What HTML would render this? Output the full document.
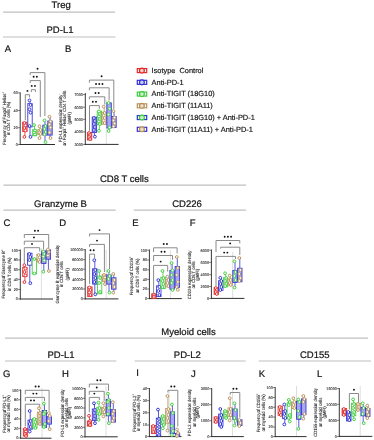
<!DOCTYPE html>
<html><head><meta charset="utf-8"><style>
html,body{margin:0;padding:0;background:#fff;}
svg{display:block;will-change:transform;font-family:"Liberation Sans",sans-serif;text-rendering:geometricPrecision;}
</style></head><body>
<svg width="374" height="440" viewBox="0 0 374 440">
<rect width="374" height="440" fill="#fff"/>
<text x="61.2" y="7.9" font-size="9.5" text-anchor="middle" fill="#161616" stroke="#161616" stroke-width="0.22" >Treg</text>
<line x1="3" y1="12.1" x2="115" y2="12.1" stroke="#bfbfbf" stroke-width="1.2"/>
<text x="60" y="32.6" font-size="9.5" text-anchor="middle" fill="#161616" stroke="#161616" stroke-width="0.22" >PD-L1</text>
<line x1="3" y1="37.0" x2="115.5" y2="37.0" stroke="#bfbfbf" stroke-width="1.2"/>
<text x="124.3" y="181.5" font-size="9.5" text-anchor="middle" fill="#161616" stroke="#161616" stroke-width="0.22" >CD8 T cells</text>
<line x1="3.5" y1="185.2" x2="246" y2="185.2" stroke="#bfbfbf" stroke-width="1.2"/>
<text x="60.5" y="207.0" font-size="9.5" text-anchor="middle" fill="#161616" stroke="#161616" stroke-width="0.22" >Granzyme B</text>
<line x1="3.5" y1="210.1" x2="115.7" y2="210.1" stroke="#bfbfbf" stroke-width="1.2"/>
<text x="187" y="206.79999999999998" font-size="9.5" text-anchor="middle" fill="#161616" stroke="#161616" stroke-width="0.22" >CD226</text>
<line x1="133.8" y1="210.1" x2="246" y2="210.1" stroke="#bfbfbf" stroke-width="1.2"/>
<text x="188.5" y="335.1" font-size="9.5" text-anchor="middle" fill="#161616" stroke="#161616" stroke-width="0.22" >Myeloid cells</text>
<line x1="5" y1="338.2" x2="368" y2="338.2" stroke="#bfbfbf" stroke-width="1.2"/>
<text x="61" y="357.8" font-size="9.5" text-anchor="middle" fill="#161616" stroke="#161616" stroke-width="0.22" >PD-L1</text>
<line x1="5" y1="361.0" x2="116.4" y2="361.0" stroke="#bfbfbf" stroke-width="1.2"/>
<text x="187.3" y="357.8" font-size="9.5" text-anchor="middle" fill="#161616" stroke="#161616" stroke-width="0.22" >PD-L2</text>
<line x1="134.6" y1="361.0" x2="245.7" y2="361.0" stroke="#bfbfbf" stroke-width="1.2"/>
<text x="314.7" y="357.6" font-size="9.5" text-anchor="middle" fill="#161616" stroke="#161616" stroke-width="0.22" >CD155</text>
<line x1="258.6" y1="361.0" x2="371" y2="361.0" stroke="#bfbfbf" stroke-width="1.2"/>
<text x="4.7" y="51.8" font-size="9.5" text-anchor="start" fill="#161616" stroke="#161616" stroke-width="0.22" >A</text>
<text x="65" y="52" font-size="9.5" text-anchor="start" fill="#161616" stroke="#161616" stroke-width="0.22" >B</text>
<text x="3.5" y="226.2" font-size="9.5" text-anchor="start" fill="#161616" stroke="#161616" stroke-width="0.22" >C</text>
<text x="59.2" y="226.3" font-size="9.5" text-anchor="start" fill="#161616" stroke="#161616" stroke-width="0.22" >D</text>
<text x="132.2" y="226.2" font-size="9.5" text-anchor="start" fill="#161616" stroke="#161616" stroke-width="0.22" >E</text>
<text x="189.8" y="225.6" font-size="9.5" text-anchor="start" fill="#161616" stroke="#161616" stroke-width="0.22" >F</text>
<text x="3.1" y="376.8" font-size="9.5" text-anchor="start" fill="#161616" stroke="#161616" stroke-width="0.22" >G</text>
<text x="62.0" y="376.6" font-size="9.5" text-anchor="start" fill="#161616" stroke="#161616" stroke-width="0.22" >H</text>
<text x="136.3" y="376.3" font-size="9.5" text-anchor="start" fill="#161616" stroke="#161616" stroke-width="0.22" >I</text>
<text x="191" y="376.6" font-size="9.5" text-anchor="start" fill="#161616" stroke="#161616" stroke-width="0.22" >J</text>
<text x="258.7" y="376.8" font-size="9.5" text-anchor="start" fill="#161616" stroke="#161616" stroke-width="0.22" >K</text>
<text x="317" y="377" font-size="9.5" text-anchor="start" fill="#161616" stroke="#161616" stroke-width="0.22" >L</text>
<rect x="137.3" y="68.60" width="9.4" height="4.0" fill="#fff" stroke="#e32a2a" stroke-width="1.2"/>
<circle cx="141.9" cy="70.60" r="2.45" fill="#f7c9c9" stroke="#e32a2a" stroke-width="1.2"/>
<text x="151.6" y="72.8" font-size="7.4" text-anchor="start" fill="#161616" stroke="#161616" stroke-width="0.18" xml:space="preserve">Isotype  Control</text>
<rect x="137.3" y="80.34" width="9.4" height="4.0" fill="#fff" stroke="#3030d8" stroke-width="1.2"/>
<circle cx="141.9" cy="82.34" r="2.45" fill="#c6c6f5" stroke="#3030d8" stroke-width="1.2"/>
<text x="151.6" y="84.53999999999999" font-size="7.4" text-anchor="start" fill="#161616" stroke="#161616" stroke-width="0.18" xml:space="preserve">Anti-PD-1</text>
<rect x="137.3" y="92.08" width="9.4" height="4.0" fill="#fff" stroke="#3ccc3c" stroke-width="1.2"/>
<circle cx="141.9" cy="94.08" r="2.45" fill="#c8f0c8" stroke="#3ccc3c" stroke-width="1.2"/>
<text x="151.6" y="96.28" font-size="7.4" text-anchor="start" fill="#161616" stroke="#161616" stroke-width="0.18" xml:space="preserve">Anti-TIGIT (18G10)</text>
<rect x="137.3" y="103.82" width="9.4" height="4.0" fill="#fff" stroke="#b8915a" stroke-width="1.2"/>
<circle cx="141.9" cy="105.82" r="2.45" fill="#eadbc4" stroke="#b8915a" stroke-width="1.2"/>
<text x="151.6" y="108.02" font-size="7.4" text-anchor="start" fill="#161616" stroke="#161616" stroke-width="0.18" xml:space="preserve">Anti-TIGIT (11A11)</text>
<rect x="137.3" y="115.56" width="9.4" height="4.0" fill="#fff" stroke="#3030d8" stroke-width="1.2"/>
<circle cx="141.9" cy="117.56" r="2.45" fill="#c8f0c8" stroke="#3ccc3c" stroke-width="1.2"/>
<text x="151.6" y="119.75999999999999" font-size="7.4" text-anchor="start" fill="#161616" stroke="#161616" stroke-width="0.18" xml:space="preserve">Anti-TIGIT (18G10) + Anti-PD-1</text>
<rect x="137.3" y="127.30" width="9.4" height="4.0" fill="#fff" stroke="#3030d8" stroke-width="1.2"/>
<circle cx="141.9" cy="129.30" r="2.45" fill="#eadbc4" stroke="#b8915a" stroke-width="1.2"/>
<text x="151.6" y="131.5" font-size="7.4" text-anchor="start" fill="#161616" stroke="#161616" stroke-width="0.18" xml:space="preserve">Anti-TIGIT (11A11) + Anti-PD-1</text>
<line x1="20.2" y1="92.4" x2="20.2" y2="144.95" stroke="#222" stroke-width="0.9"/>
<line x1="19.75" y1="144.5" x2="55.0" y2="144.5" stroke="#222" stroke-width="0.95"/>
<line x1="17.9" y1="92.9" x2="20.2" y2="92.9" stroke="#2a2a2a" stroke-width="0.6"/>
<text x="17.8" y="94.25" font-size="3.8" text-anchor="end" fill="#333" stroke="#333" stroke-width="0.1" >60</text>
<line x1="17.9" y1="110.5" x2="20.2" y2="110.5" stroke="#2a2a2a" stroke-width="0.6"/>
<text x="17.8" y="111.85" font-size="3.8" text-anchor="end" fill="#333" stroke="#333" stroke-width="0.1" >40</text>
<line x1="17.9" y1="127.7" x2="20.2" y2="127.7" stroke="#2a2a2a" stroke-width="0.6"/>
<text x="17.8" y="129.05" font-size="3.8" text-anchor="end" fill="#333" stroke="#333" stroke-width="0.1" >20</text>
<line x1="17.9" y1="144.5" x2="20.2" y2="144.5" stroke="#2a2a2a" stroke-width="0.6"/>
<text x="17.8" y="145.85" font-size="3.8" text-anchor="end" fill="#333" stroke="#333" stroke-width="0.1" >0</text>
<text transform="translate(5.85,118.5) rotate(-90) scale(0.9,1)" font-size="4.611" text-anchor="middle" fill="#222" stroke="#222" stroke-width="0.08">Frequency of Foxp3<tspan baseline-shift="super" font-size="2.9">+</tspan> Helios<tspan baseline-shift="super" font-size="2.9">+</tspan></text>
<text transform="translate(10.45,118.5) rotate(-90) scale(0.9,1)" font-size="4.611" text-anchor="middle" fill="#222" stroke="#222" stroke-width="0.08">in CD4 T cells (%)</text>
<polyline points="30.2,75 30.2,72.6 44.9,72.6 44.9,116" fill="none" stroke="#8a8a8a" stroke-width="1.0"/>
<circle cx="37.55" cy="68.80" r="0.95" fill="#111"/>
<polyline points="30.2,83 30.2,80.6 40.3,80.6 40.3,117" fill="none" stroke="#8a8a8a" stroke-width="1.0"/>
<circle cx="33.65" cy="76.80" r="0.95" fill="#111"/>
<circle cx="36.85" cy="76.80" r="0.95" fill="#111"/>
<polyline points="31.3,92.1 31.3,89.7 35.4,89.7 35.4,92.1" fill="none" stroke="#8a8a8a" stroke-width="1.0"/>
<circle cx="31.75" cy="85.90" r="0.95" fill="#111"/>
<circle cx="34.95" cy="85.90" r="0.95" fill="#111"/>
<polyline points="25.3,120.3 25.3,94.7 29.6,94.7 29.6,97.4" fill="none" stroke="#8a8a8a" stroke-width="1.0"/>
<circle cx="27.45" cy="90.90" r="0.95" fill="#111"/>
<line x1="24.9" y1="131.6" x2="24.9" y2="136.9" stroke="#e32a2a" stroke-width="0.8"/>
<rect x="22.70" y="122.20" width="4.40" height="9.40" fill="#f2a6a6" stroke="#e32a2a" stroke-width="0.85"/>
<circle cx="24.40" cy="123.00" r="1.4" fill="#fff" stroke="#e32a2a" stroke-width="0.95"/>
<circle cx="25.40" cy="125.50" r="1.4" fill="#fff" stroke="#e32a2a" stroke-width="0.95"/>
<circle cx="24.40" cy="128.00" r="1.4" fill="#fff" stroke="#e32a2a" stroke-width="0.95"/>
<circle cx="25.40" cy="130.50" r="1.4" fill="#fff" stroke="#e32a2a" stroke-width="0.95"/>
<circle cx="24.40" cy="136.90" r="1.4" fill="#fff" stroke="#e32a2a" stroke-width="0.95"/>
<line x1="30.0" y1="100.4" x2="30.0" y2="103.6" stroke="#3030d8" stroke-width="0.8"/>
<line x1="30.0" y1="126.9" x2="30.0" y2="136.9" stroke="#3030d8" stroke-width="0.8"/>
<rect x="27.80" y="103.60" width="4.40" height="23.30" fill="#fff" stroke="#3030d8" stroke-width="0.85"/>
<circle cx="29.50" cy="100.40" r="1.4" fill="#fff" stroke="#3030d8" stroke-width="0.95"/>
<circle cx="30.50" cy="105.00" r="1.4" fill="#fff" stroke="#3030d8" stroke-width="0.95"/>
<circle cx="29.50" cy="109.30" r="1.4" fill="#fff" stroke="#3030d8" stroke-width="0.95"/>
<circle cx="30.50" cy="112.70" r="1.4" fill="#fff" stroke="#3030d8" stroke-width="0.95"/>
<circle cx="29.50" cy="126.00" r="1.4" fill="#fff" stroke="#3030d8" stroke-width="0.95"/>
<circle cx="30.50" cy="136.90" r="1.4" fill="#fff" stroke="#3030d8" stroke-width="0.95"/>
<line x1="34.5" y1="125.1" x2="34.5" y2="129.8" stroke="#3ccc3c" stroke-width="0.8"/>
<rect x="32.30" y="129.80" width="4.40" height="5.90" fill="#fff" stroke="#3ccc3c" stroke-width="0.85"/>
<circle cx="34.00" cy="125.10" r="1.4" fill="#fff" stroke="#3ccc3c" stroke-width="0.95"/>
<circle cx="35.00" cy="130.50" r="1.4" fill="#fff" stroke="#3ccc3c" stroke-width="0.95"/>
<circle cx="34.00" cy="132.50" r="1.4" fill="#fff" stroke="#3ccc3c" stroke-width="0.95"/>
<circle cx="35.00" cy="134.50" r="1.4" fill="#fff" stroke="#3ccc3c" stroke-width="0.95"/>
<line x1="40.0" y1="126.3" x2="40.0" y2="129.8" stroke="#b8915a" stroke-width="0.8"/>
<line x1="40.0" y1="134.6" x2="40.0" y2="138.1" stroke="#b8915a" stroke-width="0.8"/>
<rect x="37.80" y="129.80" width="4.40" height="4.80" fill="#fff" stroke="#b8915a" stroke-width="0.85"/>
<circle cx="39.50" cy="126.30" r="1.4" fill="#fff" stroke="#b8915a" stroke-width="0.95"/>
<circle cx="40.50" cy="130.00" r="1.4" fill="#fff" stroke="#b8915a" stroke-width="0.95"/>
<circle cx="39.50" cy="132.50" r="1.4" fill="#fff" stroke="#b8915a" stroke-width="0.95"/>
<circle cx="40.50" cy="134.00" r="1.4" fill="#fff" stroke="#b8915a" stroke-width="0.95"/>
<circle cx="39.50" cy="138.10" r="1.4" fill="#fff" stroke="#b8915a" stroke-width="0.95"/>
<line x1="45.0" y1="120.4" x2="45.0" y2="125.1" stroke="#3030d8" stroke-width="0.8"/>
<line x1="45.0" y1="135.1" x2="45.0" y2="142.2" stroke="#3030d8" stroke-width="0.8"/>
<rect x="42.80" y="125.10" width="4.40" height="10.00" fill="#a9a9f0" stroke="#3030d8" stroke-width="0.85"/>
<circle cx="44.50" cy="120.40" r="1.4" fill="#fff" stroke="#3ccc3c" stroke-width="0.95"/>
<circle cx="45.50" cy="126.00" r="1.4" fill="#fff" stroke="#3ccc3c" stroke-width="0.95"/>
<circle cx="44.50" cy="129.00" r="1.4" fill="#fff" stroke="#3ccc3c" stroke-width="0.95"/>
<circle cx="45.50" cy="132.00" r="1.4" fill="#fff" stroke="#3ccc3c" stroke-width="0.95"/>
<circle cx="44.50" cy="134.50" r="1.4" fill="#fff" stroke="#3ccc3c" stroke-width="0.95"/>
<circle cx="45.50" cy="142.20" r="1.4" fill="#fff" stroke="#3ccc3c" stroke-width="0.95"/>
<line x1="50.0" y1="116.8" x2="50.0" y2="121.0" stroke="#3030d8" stroke-width="0.8"/>
<line x1="50.0" y1="135.1" x2="50.0" y2="138.1" stroke="#3030d8" stroke-width="0.8"/>
<rect x="47.80" y="121.00" width="4.40" height="14.10" fill="#a9a9f0" stroke="#3030d8" stroke-width="0.85"/>
<circle cx="49.50" cy="116.80" r="1.4" fill="#fff" stroke="#b8915a" stroke-width="0.95"/>
<circle cx="50.50" cy="121.50" r="1.4" fill="#fff" stroke="#b8915a" stroke-width="0.95"/>
<circle cx="49.50" cy="124.50" r="1.4" fill="#fff" stroke="#b8915a" stroke-width="0.95"/>
<circle cx="50.50" cy="127.50" r="1.4" fill="#fff" stroke="#b8915a" stroke-width="0.95"/>
<circle cx="49.50" cy="132.50" r="1.4" fill="#fff" stroke="#b8915a" stroke-width="0.95"/>
<circle cx="50.50" cy="138.10" r="1.4" fill="#fff" stroke="#b8915a" stroke-width="0.95"/>
<line x1="106.3" y1="100" x2="106.3" y2="144.4" stroke="#c8c8c8" stroke-width="0.6"/>
<line x1="85.3" y1="93.0" x2="85.3" y2="144.85" stroke="#222" stroke-width="0.9"/>
<line x1="84.85" y1="144.4" x2="118.6" y2="144.4" stroke="#222" stroke-width="0.95"/>
<line x1="83.0" y1="94.6" x2="85.3" y2="94.6" stroke="#2a2a2a" stroke-width="0.6"/>
<text x="82.89999999999999" y="95.94999999999999" font-size="3.8" text-anchor="end" fill="#333" stroke="#333" stroke-width="0.1" >7000</text>
<line x1="83.0" y1="107.2" x2="85.3" y2="107.2" stroke="#2a2a2a" stroke-width="0.6"/>
<text x="82.89999999999999" y="108.55" font-size="3.8" text-anchor="end" fill="#333" stroke="#333" stroke-width="0.1" >6000</text>
<line x1="83.0" y1="119.3" x2="85.3" y2="119.3" stroke="#2a2a2a" stroke-width="0.6"/>
<text x="82.89999999999999" y="120.64999999999999" font-size="3.8" text-anchor="end" fill="#333" stroke="#333" stroke-width="0.1" >5000</text>
<line x1="83.0" y1="131.9" x2="85.3" y2="131.9" stroke="#2a2a2a" stroke-width="0.6"/>
<text x="82.89999999999999" y="133.25" font-size="3.8" text-anchor="end" fill="#333" stroke="#333" stroke-width="0.1" >4000</text>
<line x1="83.0" y1="144.4" x2="85.3" y2="144.4" stroke="#2a2a2a" stroke-width="0.6"/>
<text x="82.89999999999999" y="145.75" font-size="3.8" text-anchor="end" fill="#333" stroke="#333" stroke-width="0.1" >3000</text>
<text transform="translate(62.05,118.3) rotate(-90) scale(0.9,1)" font-size="4.611" text-anchor="middle" fill="#222" stroke="#222" stroke-width="0.08">PD-L1 expression density</text>
<text transform="translate(66.25,118.3) rotate(-90) scale(0.9,1)" font-size="4.611" text-anchor="middle" fill="#222" stroke="#222" stroke-width="0.08">on Foxp3<tspan baseline-shift="super" font-size="2.9">+</tspan> Helios<tspan baseline-shift="super" font-size="2.9">+</tspan> CD4 T cells</text>
<text transform="translate(71.15,118.3) rotate(-90) scale(0.9,1)" font-size="4.611" text-anchor="middle" fill="#222" stroke="#222" stroke-width="0.08">(gMFI)</text>
<polyline points="89.4,82.7 89.4,80.1 113.8,80.1 113.8,109" fill="none" stroke="#8a8a8a" stroke-width="1.0"/>
<circle cx="101.60" cy="76.30" r="0.95" fill="#111"/>
<polyline points="89.4,90.3 89.4,87.8 109.1,87.8 109.1,100.5" fill="none" stroke="#8a8a8a" stroke-width="1.0"/>
<circle cx="96.05" cy="84.00" r="0.95" fill="#111"/>
<circle cx="99.25" cy="84.00" r="0.95" fill="#111"/>
<circle cx="102.45" cy="84.00" r="0.95" fill="#111"/>
<polyline points="89.4,99.3 89.4,96.8 104.8,96.8 104.8,104.5" fill="none" stroke="#8a8a8a" stroke-width="1.0"/>
<circle cx="95.50" cy="93.00" r="0.95" fill="#111"/>
<circle cx="98.70" cy="93.00" r="0.95" fill="#111"/>
<polyline points="89.5,130.7 89.5,105.6 99.3,105.6 99.3,108.9" fill="none" stroke="#8a8a8a" stroke-width="1.0"/>
<circle cx="92.80" cy="101.80" r="0.95" fill="#111"/>
<circle cx="96.00" cy="101.80" r="0.95" fill="#111"/>
<rect x="87.40" y="132.40" width="4.40" height="7.60" fill="#f2a6a6" stroke="#e32a2a" stroke-width="0.85"/>
<circle cx="89.10" cy="133.00" r="1.4" fill="#fff" stroke="#e32a2a" stroke-width="0.95"/>
<circle cx="90.10" cy="135.00" r="1.4" fill="#fff" stroke="#e32a2a" stroke-width="0.95"/>
<circle cx="89.10" cy="137.00" r="1.4" fill="#fff" stroke="#e32a2a" stroke-width="0.95"/>
<circle cx="90.10" cy="139.00" r="1.4" fill="#fff" stroke="#e32a2a" stroke-width="0.95"/>
<line x1="94.4" y1="132.4" x2="94.4" y2="136.7" stroke="#3030d8" stroke-width="0.8"/>
<rect x="92.20" y="117.10" width="4.40" height="15.30" fill="#b4b4ee" stroke="#3030d8" stroke-width="0.85"/>
<circle cx="93.90" cy="118.00" r="1.4" fill="#fff" stroke="#3030d8" stroke-width="0.95"/>
<circle cx="94.90" cy="121.00" r="1.4" fill="#fff" stroke="#3030d8" stroke-width="0.95"/>
<circle cx="93.90" cy="124.00" r="1.4" fill="#fff" stroke="#3030d8" stroke-width="0.95"/>
<circle cx="94.90" cy="127.00" r="1.4" fill="#fff" stroke="#3030d8" stroke-width="0.95"/>
<circle cx="93.90" cy="130.00" r="1.4" fill="#fff" stroke="#3030d8" stroke-width="0.95"/>
<circle cx="94.90" cy="136.70" r="1.4" fill="#fff" stroke="#3030d8" stroke-width="0.95"/>
<line x1="99.4" y1="124.7" x2="99.4" y2="130.7" stroke="#3ccc3c" stroke-width="0.8"/>
<rect x="97.20" y="111.10" width="4.40" height="13.60" fill="#fff" stroke="#3ccc3c" stroke-width="0.85"/>
<circle cx="98.90" cy="111.50" r="1.4" fill="#fff" stroke="#3ccc3c" stroke-width="0.95"/>
<circle cx="99.90" cy="114.00" r="1.4" fill="#fff" stroke="#3ccc3c" stroke-width="0.95"/>
<circle cx="98.90" cy="116.50" r="1.4" fill="#fff" stroke="#3ccc3c" stroke-width="0.95"/>
<circle cx="99.90" cy="119.00" r="1.4" fill="#fff" stroke="#3ccc3c" stroke-width="0.95"/>
<circle cx="98.90" cy="121.50" r="1.4" fill="#fff" stroke="#3ccc3c" stroke-width="0.95"/>
<circle cx="99.90" cy="124.00" r="1.4" fill="#fff" stroke="#3ccc3c" stroke-width="0.95"/>
<circle cx="98.90" cy="130.70" r="1.4" fill="#fff" stroke="#3ccc3c" stroke-width="0.95"/>
<line x1="104.2" y1="106.7" x2="104.2" y2="112.2" stroke="#b8915a" stroke-width="0.8"/>
<rect x="102.00" y="112.20" width="4.40" height="12.00" fill="#fff" stroke="#b8915a" stroke-width="0.85"/>
<circle cx="103.70" cy="106.70" r="1.4" fill="#fff" stroke="#b8915a" stroke-width="0.95"/>
<circle cx="104.70" cy="113.00" r="1.4" fill="#fff" stroke="#b8915a" stroke-width="0.95"/>
<circle cx="103.70" cy="115.50" r="1.4" fill="#fff" stroke="#b8915a" stroke-width="0.95"/>
<circle cx="104.70" cy="118.00" r="1.4" fill="#fff" stroke="#b8915a" stroke-width="0.95"/>
<circle cx="103.70" cy="120.50" r="1.4" fill="#fff" stroke="#b8915a" stroke-width="0.95"/>
<circle cx="104.70" cy="123.00" r="1.4" fill="#fff" stroke="#b8915a" stroke-width="0.95"/>
<line x1="109.1" y1="128.0" x2="109.1" y2="131.0" stroke="#3030d8" stroke-width="0.8"/>
<rect x="106.90" y="102.90" width="4.40" height="25.10" fill="#a9a9f0" stroke="#3030d8" stroke-width="0.85"/>
<circle cx="108.60" cy="103.00" r="1.4" fill="#fff" stroke="#3ccc3c" stroke-width="0.95"/>
<circle cx="109.60" cy="108.70" r="1.4" fill="#fff" stroke="#3ccc3c" stroke-width="0.95"/>
<circle cx="108.60" cy="114.50" r="1.4" fill="#fff" stroke="#3ccc3c" stroke-width="0.95"/>
<circle cx="109.60" cy="127.50" r="1.4" fill="#fff" stroke="#3ccc3c" stroke-width="0.95"/>
<circle cx="108.60" cy="131.00" r="1.4" fill="#fff" stroke="#3ccc3c" stroke-width="0.95"/>
<line x1="114.0" y1="111.1" x2="114.0" y2="116.5" stroke="#3030d8" stroke-width="0.8"/>
<rect x="111.80" y="116.50" width="4.40" height="10.90" fill="#a9a9f0" stroke="#3030d8" stroke-width="0.85"/>
<circle cx="113.50" cy="111.10" r="1.4" fill="#fff" stroke="#b8915a" stroke-width="0.95"/>
<circle cx="114.50" cy="117.50" r="1.4" fill="#fff" stroke="#b8915a" stroke-width="0.95"/>
<circle cx="113.50" cy="120.50" r="1.4" fill="#fff" stroke="#b8915a" stroke-width="0.95"/>
<circle cx="114.50" cy="123.50" r="1.4" fill="#fff" stroke="#b8915a" stroke-width="0.95"/>
<circle cx="113.50" cy="126.50" r="1.4" fill="#fff" stroke="#b8915a" stroke-width="0.95"/>
<line x1="41.4" y1="248" x2="41.4" y2="299.0" stroke="#c8c8c8" stroke-width="0.6"/>
<line x1="20.3" y1="249.5" x2="20.3" y2="299.45" stroke="#222" stroke-width="0.9"/>
<line x1="19.85" y1="299.0" x2="53.0" y2="299.0" stroke="#222" stroke-width="0.95"/>
<line x1="18.0" y1="250.4" x2="20.3" y2="250.4" stroke="#2a2a2a" stroke-width="0.6"/>
<text x="17.900000000000002" y="251.75" font-size="3.8" text-anchor="end" fill="#333" stroke="#333" stroke-width="0.1" >100</text>
<line x1="18.0" y1="260.0" x2="20.3" y2="260.0" stroke="#2a2a2a" stroke-width="0.6"/>
<text x="17.900000000000002" y="261.35" font-size="3.8" text-anchor="end" fill="#333" stroke="#333" stroke-width="0.1" >80</text>
<line x1="18.0" y1="269.7" x2="20.3" y2="269.7" stroke="#2a2a2a" stroke-width="0.6"/>
<text x="17.900000000000002" y="271.05" font-size="3.8" text-anchor="end" fill="#333" stroke="#333" stroke-width="0.1" >60</text>
<line x1="18.0" y1="279.3" x2="20.3" y2="279.3" stroke="#2a2a2a" stroke-width="0.6"/>
<text x="17.900000000000002" y="280.65000000000003" font-size="3.8" text-anchor="end" fill="#333" stroke="#333" stroke-width="0.1" >40</text>
<line x1="18.0" y1="289.4" x2="20.3" y2="289.4" stroke="#2a2a2a" stroke-width="0.6"/>
<text x="17.900000000000002" y="290.75" font-size="3.8" text-anchor="end" fill="#333" stroke="#333" stroke-width="0.1" >20</text>
<line x1="18.0" y1="299.0" x2="20.3" y2="299.0" stroke="#2a2a2a" stroke-width="0.6"/>
<text x="17.900000000000002" y="300.35" font-size="3.8" text-anchor="end" fill="#333" stroke="#333" stroke-width="0.1" >0</text>
<text transform="translate(5.45,274.2) rotate(-90) scale(0.9,1)" font-size="4.611" text-anchor="middle" fill="#222" stroke="#222" stroke-width="0.08">Frequencyof Granzyme B<tspan baseline-shift="super" font-size="2.9">+</tspan></text>
<text transform="translate(10.95,274.2) rotate(-90) scale(0.9,1)" font-size="4.611" text-anchor="middle" fill="#222" stroke="#222" stroke-width="0.08">in CD8 T cells (%)</text>
<polyline points="24.3,238 24.3,234.5 48.7,234.5 48.7,248.1" fill="none" stroke="#8a8a8a" stroke-width="1.0"/>
<circle cx="34.90" cy="230.70" r="0.95" fill="#111"/>
<circle cx="38.10" cy="230.70" r="0.95" fill="#111"/>
<polyline points="24.3,244.8 24.3,241.2 43.6,241.2 43.6,249.6" fill="none" stroke="#8a8a8a" stroke-width="1.0"/>
<circle cx="33.95" cy="237.40" r="0.95" fill="#111"/>
<polyline points="24.3,264 24.3,247.7 39.7,247.7 39.7,251.5" fill="none" stroke="#8a8a8a" stroke-width="1.0"/>
<circle cx="32.00" cy="243.90" r="0.95" fill="#111"/>
<line x1="24.9" y1="265.2" x2="24.9" y2="267.4" stroke="#e32a2a" stroke-width="0.8"/>
<line x1="24.9" y1="276.6" x2="24.9" y2="282.1" stroke="#e32a2a" stroke-width="0.8"/>
<rect x="22.70" y="267.40" width="4.40" height="9.20" fill="#fff" stroke="#e32a2a" stroke-width="0.85"/>
<circle cx="24.40" cy="265.20" r="1.4" fill="#fff" stroke="#e32a2a" stroke-width="0.95"/>
<circle cx="25.40" cy="268.50" r="1.4" fill="#fff" stroke="#e32a2a" stroke-width="0.95"/>
<circle cx="24.40" cy="272.00" r="1.4" fill="#fff" stroke="#e32a2a" stroke-width="0.95"/>
<circle cx="25.40" cy="275.50" r="1.4" fill="#fff" stroke="#e32a2a" stroke-width="0.95"/>
<circle cx="24.40" cy="282.10" r="1.4" fill="#fff" stroke="#e32a2a" stroke-width="0.95"/>
<line x1="29.8" y1="265.2" x2="29.8" y2="283.2" stroke="#3030d8" stroke-width="0.8"/>
<rect x="27.60" y="253.20" width="4.40" height="12.00" fill="#fff" stroke="#3030d8" stroke-width="0.85"/>
<circle cx="29.30" cy="254.00" r="1.4" fill="#fff" stroke="#3030d8" stroke-width="0.95"/>
<circle cx="30.30" cy="257.00" r="1.4" fill="#fff" stroke="#3030d8" stroke-width="0.95"/>
<circle cx="29.30" cy="260.00" r="1.4" fill="#fff" stroke="#3030d8" stroke-width="0.95"/>
<circle cx="30.30" cy="283.20" r="1.4" fill="#fff" stroke="#3030d8" stroke-width="0.95"/>
<rect x="32.20" y="258.60" width="4.40" height="15.30" fill="#fff" stroke="#3ccc3c" stroke-width="0.85"/>
<circle cx="34.40" cy="259.00" r="1.4" fill="#fff" stroke="#3ccc3c" stroke-width="0.95"/>
<circle cx="34.40" cy="273.50" r="1.4" fill="#fff" stroke="#3ccc3c" stroke-width="0.95"/>
<rect x="36.90" y="254.30" width="4.40" height="7.60" fill="#fff" stroke="#b8915a" stroke-width="0.85"/>
<circle cx="38.60" cy="255.00" r="1.4" fill="#fff" stroke="#b8915a" stroke-width="0.95"/>
<circle cx="39.60" cy="257.50" r="1.4" fill="#fff" stroke="#b8915a" stroke-width="0.95"/>
<circle cx="38.60" cy="260.00" r="1.4" fill="#fff" stroke="#b8915a" stroke-width="0.95"/>
<circle cx="39.60" cy="262.00" r="1.4" fill="#fff" stroke="#b8915a" stroke-width="0.95"/>
<line x1="43.8" y1="263.5" x2="43.8" y2="271.7" stroke="#3030d8" stroke-width="0.8"/>
<rect x="41.60" y="251.00" width="4.40" height="12.50" fill="#a9a9f0" stroke="#3030d8" stroke-width="0.85"/>
<circle cx="43.30" cy="251.50" r="1.4" fill="#fff" stroke="#3ccc3c" stroke-width="0.95"/>
<circle cx="44.30" cy="254.00" r="1.4" fill="#fff" stroke="#3ccc3c" stroke-width="0.95"/>
<circle cx="43.30" cy="256.50" r="1.4" fill="#fff" stroke="#3ccc3c" stroke-width="0.95"/>
<circle cx="44.30" cy="260.50" r="1.4" fill="#fff" stroke="#3ccc3c" stroke-width="0.95"/>
<circle cx="43.30" cy="271.70" r="1.4" fill="#fff" stroke="#3ccc3c" stroke-width="0.95"/>
<line x1="48.4" y1="259.2" x2="48.4" y2="271.0" stroke="#3030d8" stroke-width="0.8"/>
<rect x="46.20" y="249.90" width="4.40" height="9.30" fill="#a9a9f0" stroke="#3030d8" stroke-width="0.85"/>
<circle cx="47.90" cy="249.50" r="1.4" fill="#fff" stroke="#b8915a" stroke-width="0.95"/>
<circle cx="48.90" cy="252.00" r="1.4" fill="#fff" stroke="#b8915a" stroke-width="0.95"/>
<circle cx="47.90" cy="255.50" r="1.4" fill="#fff" stroke="#b8915a" stroke-width="0.95"/>
<circle cx="48.90" cy="271.00" r="1.4" fill="#fff" stroke="#b8915a" stroke-width="0.95"/>
<line x1="106.2" y1="250" x2="106.2" y2="298.9" stroke="#c8c8c8" stroke-width="0.6"/>
<line x1="85.2" y1="249.0" x2="85.2" y2="299.34999999999997" stroke="#222" stroke-width="0.9"/>
<line x1="84.75" y1="298.9" x2="118.4" y2="298.9" stroke="#222" stroke-width="0.95"/>
<line x1="82.9" y1="249.8" x2="85.2" y2="249.8" stroke="#2a2a2a" stroke-width="0.6"/>
<text x="82.8" y="251.15" font-size="3.8" text-anchor="end" fill="#333" stroke="#333" stroke-width="0.1" >100000</text>
<line x1="82.9" y1="259.6" x2="85.2" y2="259.6" stroke="#2a2a2a" stroke-width="0.6"/>
<text x="82.8" y="260.95000000000005" font-size="3.8" text-anchor="end" fill="#333" stroke="#333" stroke-width="0.1" >80000</text>
<line x1="82.9" y1="269.2" x2="85.2" y2="269.2" stroke="#2a2a2a" stroke-width="0.6"/>
<text x="82.8" y="270.55" font-size="3.8" text-anchor="end" fill="#333" stroke="#333" stroke-width="0.1" >60000</text>
<line x1="82.9" y1="279.5" x2="85.2" y2="279.5" stroke="#2a2a2a" stroke-width="0.6"/>
<text x="82.8" y="280.85" font-size="3.8" text-anchor="end" fill="#333" stroke="#333" stroke-width="0.1" >40000</text>
<line x1="82.9" y1="289.0" x2="85.2" y2="289.0" stroke="#2a2a2a" stroke-width="0.6"/>
<text x="82.8" y="290.35" font-size="3.8" text-anchor="end" fill="#333" stroke="#333" stroke-width="0.1" >20000</text>
<line x1="82.9" y1="298.9" x2="85.2" y2="298.9" stroke="#2a2a2a" stroke-width="0.6"/>
<text x="82.8" y="300.25" font-size="3.8" text-anchor="end" fill="#333" stroke="#333" stroke-width="0.1" >0</text>
<text transform="translate(58.65,274.3) rotate(-90) scale(0.9,1)" font-size="4.611" text-anchor="middle" fill="#222" stroke="#222" stroke-width="0.08">Granzyme B expression density</text>
<text transform="translate(63.35,274.3) rotate(-90) scale(0.9,1)" font-size="4.611" text-anchor="middle" fill="#222" stroke="#222" stroke-width="0.08">in CD8 T cells</text>
<text transform="translate(68.65,274.3) rotate(-90) scale(0.9,1)" font-size="4.611" text-anchor="middle" fill="#222" stroke="#222" stroke-width="0.08">(gMFI)</text>
<polyline points="89.6,236.5 89.6,233.9 109.5,233.9 109.5,269" fill="none" stroke="#8a8a8a" stroke-width="1.0"/>
<circle cx="99.55" cy="230.10" r="0.95" fill="#111"/>
<polyline points="89.6,247 89.6,244.4 104.4,244.4 104.4,272" fill="none" stroke="#8a8a8a" stroke-width="1.0"/>
<circle cx="97.00" cy="240.60" r="0.95" fill="#111"/>
<polyline points="89.6,284.1 89.6,254.1 94.6,254.1 94.6,258.5" fill="none" stroke="#8a8a8a" stroke-width="1.0"/>
<circle cx="90.50" cy="250.30" r="0.95" fill="#111"/>
<circle cx="93.70" cy="250.30" r="0.95" fill="#111"/>
<rect x="87.70" y="286.90" width="4.40" height="9.70" fill="#f2a6a6" stroke="#e32a2a" stroke-width="0.85"/>
<circle cx="89.40" cy="287.50" r="1.4" fill="#fff" stroke="#e32a2a" stroke-width="0.95"/>
<circle cx="90.40" cy="290.00" r="1.4" fill="#fff" stroke="#e32a2a" stroke-width="0.95"/>
<circle cx="89.40" cy="292.50" r="1.4" fill="#fff" stroke="#e32a2a" stroke-width="0.95"/>
<circle cx="90.40" cy="295.00" r="1.4" fill="#fff" stroke="#e32a2a" stroke-width="0.95"/>
<line x1="94.8" y1="260.2" x2="94.8" y2="268.8" stroke="#3030d8" stroke-width="0.8"/>
<line x1="94.8" y1="284.1" x2="94.8" y2="294.3" stroke="#3030d8" stroke-width="0.8"/>
<rect x="92.60" y="268.80" width="4.40" height="15.30" fill="#b4b4ee" stroke="#3030d8" stroke-width="0.85"/>
<circle cx="94.30" cy="260.20" r="1.4" fill="#fff" stroke="#3030d8" stroke-width="0.95"/>
<circle cx="95.30" cy="270.00" r="1.4" fill="#fff" stroke="#3030d8" stroke-width="0.95"/>
<circle cx="94.30" cy="274.00" r="1.4" fill="#fff" stroke="#3030d8" stroke-width="0.95"/>
<circle cx="95.30" cy="278.00" r="1.4" fill="#fff" stroke="#3030d8" stroke-width="0.95"/>
<circle cx="94.30" cy="282.00" r="1.4" fill="#fff" stroke="#3030d8" stroke-width="0.95"/>
<circle cx="95.30" cy="294.30" r="1.4" fill="#fff" stroke="#3030d8" stroke-width="0.95"/>
<line x1="99.6" y1="271.0" x2="99.6" y2="276.1" stroke="#3ccc3c" stroke-width="0.8"/>
<rect x="97.40" y="276.10" width="4.40" height="17.70" fill="#fff" stroke="#3ccc3c" stroke-width="0.85"/>
<circle cx="99.10" cy="271.00" r="1.4" fill="#fff" stroke="#3ccc3c" stroke-width="0.95"/>
<circle cx="100.10" cy="278.00" r="1.4" fill="#fff" stroke="#3ccc3c" stroke-width="0.95"/>
<circle cx="99.10" cy="283.00" r="1.4" fill="#fff" stroke="#3ccc3c" stroke-width="0.95"/>
<circle cx="100.10" cy="292.00" r="1.4" fill="#fff" stroke="#3ccc3c" stroke-width="0.95"/>
<line x1="104.5" y1="281.3" x2="104.5" y2="284.1" stroke="#b8915a" stroke-width="0.8"/>
<rect x="102.30" y="274.40" width="4.40" height="6.90" fill="#fff" stroke="#b8915a" stroke-width="0.85"/>
<circle cx="104.00" cy="275.00" r="1.4" fill="#fff" stroke="#b8915a" stroke-width="0.95"/>
<circle cx="105.00" cy="277.50" r="1.4" fill="#fff" stroke="#b8915a" stroke-width="0.95"/>
<circle cx="104.00" cy="280.00" r="1.4" fill="#fff" stroke="#b8915a" stroke-width="0.95"/>
<circle cx="105.00" cy="284.10" r="1.4" fill="#fff" stroke="#b8915a" stroke-width="0.95"/>
<line x1="109.0" y1="271.0" x2="109.0" y2="275.0" stroke="#3030d8" stroke-width="0.8"/>
<line x1="109.0" y1="284.1" x2="109.0" y2="292.6" stroke="#3030d8" stroke-width="0.8"/>
<rect x="106.80" y="275.00" width="4.40" height="9.10" fill="#a9a9f0" stroke="#3030d8" stroke-width="0.85"/>
<circle cx="108.50" cy="271.00" r="1.4" fill="#fff" stroke="#3ccc3c" stroke-width="0.95"/>
<circle cx="109.50" cy="276.00" r="1.4" fill="#fff" stroke="#3ccc3c" stroke-width="0.95"/>
<circle cx="108.50" cy="279.00" r="1.4" fill="#fff" stroke="#3ccc3c" stroke-width="0.95"/>
<circle cx="109.50" cy="292.60" r="1.4" fill="#fff" stroke="#3ccc3c" stroke-width="0.95"/>
<line x1="113.8" y1="273.9" x2="113.8" y2="277.8" stroke="#3030d8" stroke-width="0.8"/>
<line x1="113.8" y1="289.2" x2="113.8" y2="292.6" stroke="#3030d8" stroke-width="0.8"/>
<rect x="111.60" y="277.80" width="4.40" height="11.40" fill="#a9a9f0" stroke="#3030d8" stroke-width="0.85"/>
<circle cx="113.30" cy="273.90" r="1.4" fill="#fff" stroke="#b8915a" stroke-width="0.95"/>
<circle cx="114.30" cy="280.00" r="1.4" fill="#fff" stroke="#b8915a" stroke-width="0.95"/>
<circle cx="113.30" cy="283.00" r="1.4" fill="#fff" stroke="#b8915a" stroke-width="0.95"/>
<circle cx="114.30" cy="287.00" r="1.4" fill="#fff" stroke="#b8915a" stroke-width="0.95"/>
<circle cx="113.30" cy="292.60" r="1.4" fill="#fff" stroke="#b8915a" stroke-width="0.95"/>
<line x1="170.4" y1="250" x2="170.4" y2="298.6" stroke="#c8c8c8" stroke-width="0.6"/>
<line x1="149.4" y1="249.5" x2="149.4" y2="299.05" stroke="#222" stroke-width="0.9"/>
<line x1="148.95000000000002" y1="298.6" x2="181.8" y2="298.6" stroke="#222" stroke-width="0.95"/>
<line x1="147.1" y1="250.2" x2="149.4" y2="250.2" stroke="#2a2a2a" stroke-width="0.6"/>
<text x="147.0" y="251.54999999999998" font-size="3.8" text-anchor="end" fill="#333" stroke="#333" stroke-width="0.1" >100</text>
<line x1="147.1" y1="260.0" x2="149.4" y2="260.0" stroke="#2a2a2a" stroke-width="0.6"/>
<text x="147.0" y="261.35" font-size="3.8" text-anchor="end" fill="#333" stroke="#333" stroke-width="0.1" >80</text>
<line x1="147.1" y1="269.8" x2="149.4" y2="269.8" stroke="#2a2a2a" stroke-width="0.6"/>
<text x="147.0" y="271.15000000000003" font-size="3.8" text-anchor="end" fill="#333" stroke="#333" stroke-width="0.1" >60</text>
<line x1="147.1" y1="279.4" x2="149.4" y2="279.4" stroke="#2a2a2a" stroke-width="0.6"/>
<text x="147.0" y="280.75" font-size="3.8" text-anchor="end" fill="#333" stroke="#333" stroke-width="0.1" >40</text>
<line x1="147.1" y1="289.0" x2="149.4" y2="289.0" stroke="#2a2a2a" stroke-width="0.6"/>
<text x="147.0" y="290.35" font-size="3.8" text-anchor="end" fill="#333" stroke="#333" stroke-width="0.1" >20</text>
<line x1="147.1" y1="298.6" x2="149.4" y2="298.6" stroke="#2a2a2a" stroke-width="0.6"/>
<text x="147.0" y="299.95000000000005" font-size="3.8" text-anchor="end" fill="#333" stroke="#333" stroke-width="0.1" >0</text>
<text transform="translate(133.15,276) rotate(-90) scale(0.9,1)" font-size="4.611" text-anchor="middle" fill="#222" stroke="#222" stroke-width="0.08">Frequencyof CD226<tspan baseline-shift="super" font-size="2.9">+</tspan></text>
<text transform="translate(138.65,276) rotate(-90) scale(0.9,1)" font-size="4.611" text-anchor="middle" fill="#222" stroke="#222" stroke-width="0.08">on CD8 T cells (%)</text>
<polyline points="153.6,252 153.6,247.8 177.1,247.8 177.1,253.4" fill="none" stroke="#8a8a8a" stroke-width="1.0"/>
<circle cx="163.75" cy="244.00" r="0.95" fill="#111"/>
<circle cx="166.95" cy="244.00" r="0.95" fill="#111"/>
<polyline points="153.6,261.1 153.6,255.5 172.5,255.5 172.5,259.7" fill="none" stroke="#8a8a8a" stroke-width="1.0"/>
<circle cx="161.45" cy="251.70" r="0.95" fill="#111"/>
<circle cx="164.65" cy="251.70" r="0.95" fill="#111"/>
<polyline points="153.6,293.2 153.6,265.4 167.7,265.4 167.7,271.7" fill="none" stroke="#8a8a8a" stroke-width="1.0"/>
<circle cx="160.65" cy="261.60" r="0.95" fill="#111"/>
<rect x="151.70" y="293.80" width="4.40" height="4.50" fill="#f2a6a6" stroke="#e32a2a" stroke-width="0.85"/>
<circle cx="153.90" cy="295.00" r="1.4" fill="#fff" stroke="#e32a2a" stroke-width="0.95"/>
<circle cx="153.90" cy="297.00" r="1.4" fill="#fff" stroke="#e32a2a" stroke-width="0.95"/>
<line x1="158.8" y1="280.1" x2="158.8" y2="285.8" stroke="#3030d8" stroke-width="0.8"/>
<rect x="156.60" y="285.80" width="4.40" height="10.80" fill="#fff" stroke="#3030d8" stroke-width="0.85"/>
<circle cx="158.30" cy="280.10" r="1.4" fill="#fff" stroke="#3030d8" stroke-width="0.95"/>
<circle cx="159.30" cy="287.00" r="1.4" fill="#fff" stroke="#3030d8" stroke-width="0.95"/>
<circle cx="158.30" cy="291.00" r="1.4" fill="#fff" stroke="#3030d8" stroke-width="0.95"/>
<circle cx="159.30" cy="295.00" r="1.4" fill="#fff" stroke="#3030d8" stroke-width="0.95"/>
<line x1="163.0" y1="271.0" x2="163.0" y2="277.3" stroke="#3ccc3c" stroke-width="0.8"/>
<rect x="160.80" y="277.30" width="4.40" height="11.30" fill="#fff" stroke="#3ccc3c" stroke-width="0.85"/>
<circle cx="162.50" cy="271.00" r="1.4" fill="#fff" stroke="#3ccc3c" stroke-width="0.95"/>
<circle cx="163.50" cy="278.00" r="1.4" fill="#fff" stroke="#3ccc3c" stroke-width="0.95"/>
<circle cx="162.50" cy="281.00" r="1.4" fill="#fff" stroke="#3ccc3c" stroke-width="0.95"/>
<circle cx="163.50" cy="284.00" r="1.4" fill="#fff" stroke="#3ccc3c" stroke-width="0.95"/>
<circle cx="162.50" cy="287.00" r="1.4" fill="#fff" stroke="#3ccc3c" stroke-width="0.95"/>
<line x1="167.9" y1="276.7" x2="167.9" y2="279.5" stroke="#b8915a" stroke-width="0.8"/>
<rect x="165.70" y="279.50" width="4.40" height="7.40" fill="#fff" stroke="#b8915a" stroke-width="0.85"/>
<circle cx="167.40" cy="276.70" r="1.4" fill="#fff" stroke="#b8915a" stroke-width="0.95"/>
<circle cx="168.40" cy="280.00" r="1.4" fill="#fff" stroke="#b8915a" stroke-width="0.95"/>
<circle cx="167.40" cy="283.00" r="1.4" fill="#fff" stroke="#b8915a" stroke-width="0.95"/>
<circle cx="168.40" cy="286.00" r="1.4" fill="#fff" stroke="#b8915a" stroke-width="0.95"/>
<line x1="172.1" y1="263.1" x2="172.1" y2="270.5" stroke="#3030d8" stroke-width="0.8"/>
<rect x="169.90" y="270.50" width="4.40" height="18.70" fill="#a9a9f0" stroke="#3030d8" stroke-width="0.85"/>
<circle cx="171.60" cy="263.10" r="1.4" fill="#fff" stroke="#3ccc3c" stroke-width="0.95"/>
<circle cx="172.60" cy="270.50" r="1.4" fill="#fff" stroke="#3ccc3c" stroke-width="0.95"/>
<circle cx="171.60" cy="275.00" r="1.4" fill="#fff" stroke="#3ccc3c" stroke-width="0.95"/>
<circle cx="172.60" cy="280.00" r="1.4" fill="#fff" stroke="#3ccc3c" stroke-width="0.95"/>
<circle cx="171.60" cy="283.00" r="1.4" fill="#fff" stroke="#3ccc3c" stroke-width="0.95"/>
<circle cx="172.60" cy="290.00" r="1.4" fill="#fff" stroke="#3ccc3c" stroke-width="0.95"/>
<line x1="177.3" y1="257.0" x2="177.3" y2="266.5" stroke="#3030d8" stroke-width="0.8"/>
<line x1="177.3" y1="287.5" x2="177.3" y2="289.8" stroke="#3030d8" stroke-width="0.8"/>
<rect x="175.10" y="266.50" width="4.40" height="21.00" fill="#a9a9f0" stroke="#3030d8" stroke-width="0.85"/>
<circle cx="176.80" cy="257.00" r="1.4" fill="#fff" stroke="#b8915a" stroke-width="0.95"/>
<circle cx="177.80" cy="268.00" r="1.4" fill="#fff" stroke="#b8915a" stroke-width="0.95"/>
<circle cx="176.80" cy="275.00" r="1.4" fill="#fff" stroke="#b8915a" stroke-width="0.95"/>
<circle cx="177.80" cy="282.00" r="1.4" fill="#fff" stroke="#b8915a" stroke-width="0.95"/>
<circle cx="176.80" cy="287.00" r="1.4" fill="#fff" stroke="#b8915a" stroke-width="0.95"/>
<circle cx="177.80" cy="289.80" r="1.4" fill="#fff" stroke="#b8915a" stroke-width="0.95"/>
<line x1="232.7" y1="252" x2="232.7" y2="298.4" stroke="#c8c8c8" stroke-width="0.6"/>
<line x1="211.4" y1="249.5" x2="211.4" y2="298.84999999999997" stroke="#222" stroke-width="0.9"/>
<line x1="210.95000000000002" y1="298.4" x2="244.4" y2="298.4" stroke="#222" stroke-width="0.95"/>
<line x1="209.1" y1="250.2" x2="211.4" y2="250.2" stroke="#2a2a2a" stroke-width="0.6"/>
<text x="209.0" y="251.54999999999998" font-size="3.8" text-anchor="end" fill="#333" stroke="#333" stroke-width="0.1" >8000</text>
<line x1="209.1" y1="262.4" x2="211.4" y2="262.4" stroke="#2a2a2a" stroke-width="0.6"/>
<text x="209.0" y="263.75" font-size="3.8" text-anchor="end" fill="#333" stroke="#333" stroke-width="0.1" >6000</text>
<line x1="209.1" y1="274.7" x2="211.4" y2="274.7" stroke="#2a2a2a" stroke-width="0.6"/>
<text x="209.0" y="276.05" font-size="3.8" text-anchor="end" fill="#333" stroke="#333" stroke-width="0.1" >4000</text>
<line x1="209.1" y1="286.5" x2="211.4" y2="286.5" stroke="#2a2a2a" stroke-width="0.6"/>
<text x="209.0" y="287.85" font-size="3.8" text-anchor="end" fill="#333" stroke="#333" stroke-width="0.1" >2000</text>
<line x1="209.1" y1="298.4" x2="211.4" y2="298.4" stroke="#2a2a2a" stroke-width="0.6"/>
<text x="209.0" y="299.75" font-size="3.8" text-anchor="end" fill="#333" stroke="#333" stroke-width="0.1" >0</text>
<text transform="translate(190.55,275) rotate(-90) scale(0.9,1)" font-size="4.611" text-anchor="middle" fill="#222" stroke="#222" stroke-width="0.08">CD226 expression density</text>
<text transform="translate(195.15,275) rotate(-90) scale(0.9,1)" font-size="4.611" text-anchor="middle" fill="#222" stroke="#222" stroke-width="0.08">on CD8 T cells</text>
<text transform="translate(198.95,275) rotate(-90) scale(0.9,1)" font-size="4.611" text-anchor="middle" fill="#222" stroke="#222" stroke-width="0.08">(gMFI)</text>
<polyline points="216,252 216,240.5 239.8,240.5 239.8,243.4" fill="none" stroke="#8a8a8a" stroke-width="1.0"/>
<circle cx="224.70" cy="236.70" r="0.95" fill="#111"/>
<circle cx="227.90" cy="236.70" r="0.95" fill="#111"/>
<circle cx="231.10" cy="236.70" r="0.95" fill="#111"/>
<polyline points="220.6,248.7 220.6,247.2 239.8,247.2 239.8,255" fill="none" stroke="#8a8a8a" stroke-width="1.0"/>
<circle cx="230.20" cy="243.40" r="0.95" fill="#111"/>
<polyline points="216,286 216,256.4 235.5,256.4 235.5,259" fill="none" stroke="#8a8a8a" stroke-width="1.0"/>
<circle cx="224.15" cy="252.60" r="0.95" fill="#111"/>
<circle cx="227.35" cy="252.60" r="0.95" fill="#111"/>
<rect x="214.10" y="287.50" width="4.40" height="6.80" fill="#f2a6a6" stroke="#e32a2a" stroke-width="0.85"/>
<circle cx="215.80" cy="288.00" r="1.4" fill="#fff" stroke="#e32a2a" stroke-width="0.95"/>
<circle cx="216.80" cy="290.00" r="1.4" fill="#fff" stroke="#e32a2a" stroke-width="0.95"/>
<circle cx="215.80" cy="292.00" r="1.4" fill="#fff" stroke="#e32a2a" stroke-width="0.95"/>
<circle cx="216.80" cy="294.00" r="1.4" fill="#fff" stroke="#e32a2a" stroke-width="0.95"/>
<line x1="220.8" y1="277.8" x2="220.8" y2="280.7" stroke="#3030d8" stroke-width="0.8"/>
<rect x="218.60" y="280.70" width="4.40" height="9.60" fill="#fff" stroke="#3030d8" stroke-width="0.85"/>
<circle cx="220.30" cy="277.80" r="1.4" fill="#fff" stroke="#3030d8" stroke-width="0.95"/>
<circle cx="221.30" cy="281.00" r="1.4" fill="#fff" stroke="#3030d8" stroke-width="0.95"/>
<circle cx="220.30" cy="284.00" r="1.4" fill="#fff" stroke="#3030d8" stroke-width="0.95"/>
<circle cx="221.30" cy="287.00" r="1.4" fill="#fff" stroke="#3030d8" stroke-width="0.95"/>
<circle cx="220.30" cy="290.00" r="1.4" fill="#fff" stroke="#3030d8" stroke-width="0.95"/>
<line x1="225.6" y1="273.3" x2="225.6" y2="277.8" stroke="#3ccc3c" stroke-width="0.8"/>
<rect x="223.40" y="277.80" width="4.40" height="9.10" fill="#fff" stroke="#3ccc3c" stroke-width="0.85"/>
<circle cx="225.10" cy="273.30" r="1.4" fill="#fff" stroke="#3ccc3c" stroke-width="0.95"/>
<circle cx="226.10" cy="278.00" r="1.4" fill="#fff" stroke="#3ccc3c" stroke-width="0.95"/>
<circle cx="225.10" cy="281.00" r="1.4" fill="#fff" stroke="#3ccc3c" stroke-width="0.95"/>
<circle cx="226.10" cy="284.00" r="1.4" fill="#fff" stroke="#3ccc3c" stroke-width="0.95"/>
<circle cx="225.10" cy="286.00" r="1.4" fill="#fff" stroke="#3ccc3c" stroke-width="0.95"/>
<line x1="230.2" y1="275.6" x2="230.2" y2="279.0" stroke="#b8915a" stroke-width="0.8"/>
<rect x="228.00" y="279.00" width="4.40" height="6.20" fill="#fff" stroke="#b8915a" stroke-width="0.85"/>
<circle cx="229.70" cy="275.60" r="1.4" fill="#fff" stroke="#b8915a" stroke-width="0.95"/>
<circle cx="230.70" cy="280.00" r="1.4" fill="#fff" stroke="#b8915a" stroke-width="0.95"/>
<circle cx="229.70" cy="283.00" r="1.4" fill="#fff" stroke="#b8915a" stroke-width="0.95"/>
<circle cx="230.70" cy="285.00" r="1.4" fill="#fff" stroke="#b8915a" stroke-width="0.95"/>
<line x1="235.0" y1="261.4" x2="235.0" y2="270.5" stroke="#3030d8" stroke-width="0.8"/>
<line x1="235.0" y1="282.4" x2="235.0" y2="287.5" stroke="#3030d8" stroke-width="0.8"/>
<rect x="232.80" y="270.50" width="4.40" height="11.90" fill="#a9a9f0" stroke="#3030d8" stroke-width="0.85"/>
<circle cx="234.50" cy="261.40" r="1.4" fill="#fff" stroke="#3ccc3c" stroke-width="0.95"/>
<circle cx="235.50" cy="272.00" r="1.4" fill="#fff" stroke="#3ccc3c" stroke-width="0.95"/>
<circle cx="234.50" cy="276.00" r="1.4" fill="#fff" stroke="#3ccc3c" stroke-width="0.95"/>
<circle cx="235.50" cy="280.00" r="1.4" fill="#fff" stroke="#3ccc3c" stroke-width="0.95"/>
<circle cx="234.50" cy="287.50" r="1.4" fill="#fff" stroke="#3ccc3c" stroke-width="0.95"/>
<line x1="239.8" y1="258.0" x2="239.8" y2="268.2" stroke="#3030d8" stroke-width="0.8"/>
<rect x="237.60" y="268.20" width="4.40" height="13.60" fill="#a9a9f0" stroke="#3030d8" stroke-width="0.85"/>
<circle cx="239.30" cy="258.00" r="1.4" fill="#fff" stroke="#b8915a" stroke-width="0.95"/>
<circle cx="240.30" cy="270.00" r="1.4" fill="#fff" stroke="#b8915a" stroke-width="0.95"/>
<circle cx="239.30" cy="274.00" r="1.4" fill="#fff" stroke="#b8915a" stroke-width="0.95"/>
<circle cx="240.30" cy="278.00" r="1.4" fill="#fff" stroke="#b8915a" stroke-width="0.95"/>
<circle cx="239.30" cy="281.00" r="1.4" fill="#fff" stroke="#b8915a" stroke-width="0.95"/>
<line x1="42.0" y1="388" x2="42.0" y2="438.2" stroke="#c8c8c8" stroke-width="0.6"/>
<line x1="20.7" y1="389.5" x2="20.7" y2="438.65" stroke="#222" stroke-width="0.9"/>
<line x1="20.25" y1="438.2" x2="51.5" y2="438.2" stroke="#222" stroke-width="0.95"/>
<line x1="18.4" y1="390.2" x2="20.7" y2="390.2" stroke="#2a2a2a" stroke-width="0.6"/>
<text x="18.3" y="391.55" font-size="3.8" text-anchor="end" fill="#333" stroke="#333" stroke-width="0.1" >100</text>
<line x1="18.4" y1="399.8" x2="20.7" y2="399.8" stroke="#2a2a2a" stroke-width="0.6"/>
<text x="18.3" y="401.15000000000003" font-size="3.8" text-anchor="end" fill="#333" stroke="#333" stroke-width="0.1" >80</text>
<line x1="18.4" y1="409.3" x2="20.7" y2="409.3" stroke="#2a2a2a" stroke-width="0.6"/>
<text x="18.3" y="410.65000000000003" font-size="3.8" text-anchor="end" fill="#333" stroke="#333" stroke-width="0.1" >60</text>
<line x1="18.4" y1="418.9" x2="20.7" y2="418.9" stroke="#2a2a2a" stroke-width="0.6"/>
<text x="18.3" y="420.25" font-size="3.8" text-anchor="end" fill="#333" stroke="#333" stroke-width="0.1" >40</text>
<line x1="18.4" y1="428.4" x2="20.7" y2="428.4" stroke="#2a2a2a" stroke-width="0.6"/>
<text x="18.3" y="429.75" font-size="3.8" text-anchor="end" fill="#333" stroke="#333" stroke-width="0.1" >20</text>
<line x1="18.4" y1="438.0" x2="20.7" y2="438.0" stroke="#2a2a2a" stroke-width="0.6"/>
<text x="18.3" y="439.35" font-size="3.8" text-anchor="end" fill="#333" stroke="#333" stroke-width="0.1" >0</text>
<text transform="translate(5.55,414) rotate(-90) scale(0.9,1)" font-size="4.611" text-anchor="middle" fill="#222" stroke="#222" stroke-width="0.08">Frequencyof PD-L1<tspan baseline-shift="super" font-size="2.9">+</tspan></text>
<text transform="translate(9.85,414) rotate(-90) scale(0.9,1)" font-size="4.611" text-anchor="middle" fill="#222" stroke="#222" stroke-width="0.08">on myeloid cells (%)</text>
<polyline points="25.3,394.4 25.3,390.3 49.1,390.3 49.1,410.7" fill="none" stroke="#8a8a8a" stroke-width="1.0"/>
<circle cx="35.60" cy="386.50" r="0.95" fill="#111"/>
<circle cx="38.80" cy="386.50" r="0.95" fill="#111"/>
<polyline points="25.3,401.1 25.3,397.4 44.5,397.4 44.5,401.1" fill="none" stroke="#8a8a8a" stroke-width="1.0"/>
<circle cx="33.30" cy="393.60" r="0.95" fill="#111"/>
<circle cx="36.50" cy="393.60" r="0.95" fill="#111"/>
<polyline points="25.3,426.4 25.3,404.2 39.7,404.2 39.7,407.8" fill="none" stroke="#8a8a8a" stroke-width="1.0"/>
<circle cx="30.90" cy="400.40" r="0.95" fill="#111"/>
<circle cx="34.10" cy="400.40" r="0.95" fill="#111"/>
<rect x="23.30" y="428.60" width="4.40" height="7.40" fill="#f2a6a6" stroke="#e32a2a" stroke-width="0.85"/>
<circle cx="25.00" cy="429.00" r="1.4" fill="#fff" stroke="#e32a2a" stroke-width="0.95"/>
<circle cx="26.00" cy="431.50" r="1.4" fill="#fff" stroke="#e32a2a" stroke-width="0.95"/>
<circle cx="25.00" cy="434.00" r="1.4" fill="#fff" stroke="#e32a2a" stroke-width="0.95"/>
<circle cx="26.00" cy="436.00" r="1.4" fill="#fff" stroke="#e32a2a" stroke-width="0.95"/>
<line x1="30.2" y1="411.0" x2="30.2" y2="420.1" stroke="#3030d8" stroke-width="0.8"/>
<rect x="28.00" y="420.10" width="4.40" height="9.10" fill="#fff" stroke="#3030d8" stroke-width="0.85"/>
<circle cx="29.70" cy="411.00" r="1.4" fill="#fff" stroke="#3030d8" stroke-width="0.95"/>
<circle cx="30.70" cy="421.00" r="1.4" fill="#fff" stroke="#3030d8" stroke-width="0.95"/>
<circle cx="29.70" cy="424.00" r="1.4" fill="#fff" stroke="#3030d8" stroke-width="0.95"/>
<circle cx="30.70" cy="427.00" r="1.4" fill="#fff" stroke="#3030d8" stroke-width="0.95"/>
<circle cx="29.70" cy="431.50" r="1.4" fill="#fff" stroke="#3030d8" stroke-width="0.95"/>
<rect x="32.60" y="418.40" width="4.40" height="9.60" fill="#fff" stroke="#3ccc3c" stroke-width="0.85"/>
<circle cx="34.30" cy="419.00" r="1.4" fill="#fff" stroke="#3ccc3c" stroke-width="0.95"/>
<circle cx="35.30" cy="422.00" r="1.4" fill="#fff" stroke="#3ccc3c" stroke-width="0.95"/>
<circle cx="34.30" cy="425.00" r="1.4" fill="#fff" stroke="#3ccc3c" stroke-width="0.95"/>
<circle cx="35.30" cy="428.00" r="1.4" fill="#fff" stroke="#3ccc3c" stroke-width="0.95"/>
<line x1="39.5" y1="408.2" x2="39.5" y2="412.2" stroke="#b8915a" stroke-width="0.8"/>
<rect x="37.30" y="412.20" width="4.40" height="12.50" fill="#fff" stroke="#b8915a" stroke-width="0.85"/>
<circle cx="39.00" cy="408.20" r="1.4" fill="#fff" stroke="#b8915a" stroke-width="0.95"/>
<circle cx="40.00" cy="413.00" r="1.4" fill="#fff" stroke="#b8915a" stroke-width="0.95"/>
<circle cx="39.00" cy="416.00" r="1.4" fill="#fff" stroke="#b8915a" stroke-width="0.95"/>
<circle cx="40.00" cy="419.00" r="1.4" fill="#fff" stroke="#b8915a" stroke-width="0.95"/>
<circle cx="39.00" cy="422.00" r="1.4" fill="#fff" stroke="#b8915a" stroke-width="0.95"/>
<circle cx="40.00" cy="424.00" r="1.4" fill="#fff" stroke="#b8915a" stroke-width="0.95"/>
<line x1="44.4" y1="403.6" x2="44.4" y2="410.5" stroke="#3030d8" stroke-width="0.8"/>
<rect x="42.20" y="410.50" width="4.40" height="17.00" fill="#a9a9f0" stroke="#3030d8" stroke-width="0.85"/>
<circle cx="43.90" cy="403.60" r="1.4" fill="#fff" stroke="#3ccc3c" stroke-width="0.95"/>
<circle cx="44.90" cy="412.00" r="1.4" fill="#fff" stroke="#3ccc3c" stroke-width="0.95"/>
<circle cx="43.90" cy="414.00" r="1.4" fill="#fff" stroke="#3ccc3c" stroke-width="0.95"/>
<circle cx="44.90" cy="424.00" r="1.4" fill="#fff" stroke="#3ccc3c" stroke-width="0.95"/>
<circle cx="43.90" cy="427.00" r="1.4" fill="#fff" stroke="#3ccc3c" stroke-width="0.95"/>
<line x1="49.3" y1="412.2" x2="49.3" y2="416.7" stroke="#3030d8" stroke-width="0.8"/>
<line x1="49.3" y1="424.1" x2="49.3" y2="429.2" stroke="#3030d8" stroke-width="0.8"/>
<rect x="47.10" y="416.70" width="4.40" height="7.40" fill="#a9a9f0" stroke="#3030d8" stroke-width="0.85"/>
<circle cx="48.80" cy="413.00" r="1.4" fill="#fff" stroke="#b8915a" stroke-width="0.95"/>
<circle cx="49.80" cy="416.00" r="1.4" fill="#fff" stroke="#b8915a" stroke-width="0.95"/>
<circle cx="48.80" cy="421.00" r="1.4" fill="#fff" stroke="#b8915a" stroke-width="0.95"/>
<circle cx="49.80" cy="429.20" r="1.4" fill="#fff" stroke="#b8915a" stroke-width="0.95"/>
<line x1="106.0" y1="386" x2="106.0" y2="436.8" stroke="#c8c8c8" stroke-width="0.6"/>
<line x1="85.0" y1="388.0" x2="85.0" y2="437.25" stroke="#222" stroke-width="0.9"/>
<line x1="84.55" y1="436.8" x2="117.7" y2="436.8" stroke="#222" stroke-width="0.95"/>
<line x1="82.7" y1="388.4" x2="85.0" y2="388.4" stroke="#2a2a2a" stroke-width="0.6"/>
<text x="82.6" y="389.75" font-size="3.8" text-anchor="end" fill="#333" stroke="#333" stroke-width="0.1" >10000</text>
<line x1="82.7" y1="398.3" x2="85.0" y2="398.3" stroke="#2a2a2a" stroke-width="0.6"/>
<text x="82.6" y="399.65000000000003" font-size="3.8" text-anchor="end" fill="#333" stroke="#333" stroke-width="0.1" >8000</text>
<line x1="82.7" y1="408.0" x2="85.0" y2="408.0" stroke="#2a2a2a" stroke-width="0.6"/>
<text x="82.6" y="409.35" font-size="3.8" text-anchor="end" fill="#333" stroke="#333" stroke-width="0.1" >6000</text>
<line x1="82.7" y1="417.8" x2="85.0" y2="417.8" stroke="#2a2a2a" stroke-width="0.6"/>
<text x="82.6" y="419.15000000000003" font-size="3.8" text-anchor="end" fill="#333" stroke="#333" stroke-width="0.1" >4000</text>
<line x1="82.7" y1="427.3" x2="85.0" y2="427.3" stroke="#2a2a2a" stroke-width="0.6"/>
<text x="82.6" y="428.65000000000003" font-size="3.8" text-anchor="end" fill="#333" stroke="#333" stroke-width="0.1" >2000</text>
<line x1="82.7" y1="436.8" x2="85.0" y2="436.8" stroke="#2a2a2a" stroke-width="0.6"/>
<text x="82.6" y="438.15000000000003" font-size="3.8" text-anchor="end" fill="#333" stroke="#333" stroke-width="0.1" >0</text>
<text transform="translate(63.55,413) rotate(-90) scale(0.9,1)" font-size="4.611" text-anchor="middle" fill="#222" stroke="#222" stroke-width="0.08">PD-L1 expression density</text>
<text transform="translate(67.55,413) rotate(-90) scale(0.9,1)" font-size="4.611" text-anchor="middle" fill="#222" stroke="#222" stroke-width="0.08">on myeloid cells</text>
<text transform="translate(71.35,413) rotate(-90) scale(0.9,1)" font-size="4.611" text-anchor="middle" fill="#222" stroke="#222" stroke-width="0.08">(gMFI)</text>
<polyline points="89.3,387.5 89.3,384.1 108.5,384.1 108.5,390.8" fill="none" stroke="#8a8a8a" stroke-width="1.0"/>
<circle cx="97.30" cy="380.30" r="0.95" fill="#111"/>
<circle cx="100.50" cy="380.30" r="0.95" fill="#111"/>
<polyline points="89.3,394.7 89.3,391.3 104.2,391.3 104.2,401" fill="none" stroke="#8a8a8a" stroke-width="1.0"/>
<circle cx="96.75" cy="387.50" r="0.95" fill="#111"/>
<polyline points="89.3,412.4 89.3,397.4 99.4,397.4 99.4,400" fill="none" stroke="#8a8a8a" stroke-width="1.0"/>
<circle cx="94.35" cy="393.60" r="0.95" fill="#111"/>
<line x1="89.5" y1="415.8" x2="89.5" y2="421.0" stroke="#e32a2a" stroke-width="0.8"/>
<rect x="87.30" y="421.00" width="4.40" height="5.10" fill="#e85050" stroke="#e32a2a" stroke-width="0.85"/>
<circle cx="89.00" cy="415.80" r="1.4" fill="#fff" stroke="#e32a2a" stroke-width="0.95"/>
<circle cx="90.00" cy="421.00" r="1.4" fill="#fff" stroke="#e32a2a" stroke-width="0.95"/>
<circle cx="89.00" cy="423.00" r="1.4" fill="#fff" stroke="#e32a2a" stroke-width="0.95"/>
<circle cx="90.00" cy="425.00" r="1.4" fill="#fff" stroke="#e32a2a" stroke-width="0.95"/>
<line x1="94.5" y1="403.3" x2="94.5" y2="409.0" stroke="#3030d8" stroke-width="0.8"/>
<line x1="94.5" y1="420.4" x2="94.5" y2="423.2" stroke="#3030d8" stroke-width="0.8"/>
<rect x="92.30" y="409.00" width="4.40" height="11.40" fill="#fff" stroke="#3030d8" stroke-width="0.85"/>
<circle cx="94.00" cy="403.30" r="1.4" fill="#fff" stroke="#3030d8" stroke-width="0.95"/>
<circle cx="95.00" cy="410.00" r="1.4" fill="#fff" stroke="#3030d8" stroke-width="0.95"/>
<circle cx="94.00" cy="413.00" r="1.4" fill="#fff" stroke="#3030d8" stroke-width="0.95"/>
<circle cx="95.00" cy="416.00" r="1.4" fill="#fff" stroke="#3030d8" stroke-width="0.95"/>
<circle cx="94.00" cy="419.00" r="1.4" fill="#fff" stroke="#3030d8" stroke-width="0.95"/>
<circle cx="95.00" cy="423.20" r="1.4" fill="#fff" stroke="#3030d8" stroke-width="0.95"/>
<line x1="99.0" y1="402.5" x2="99.0" y2="407.3" stroke="#3ccc3c" stroke-width="0.8"/>
<line x1="99.0" y1="414.7" x2="99.0" y2="419.8" stroke="#3ccc3c" stroke-width="0.8"/>
<rect x="96.80" y="407.30" width="4.40" height="7.40" fill="#fff" stroke="#3ccc3c" stroke-width="0.85"/>
<circle cx="98.50" cy="402.50" r="1.4" fill="#fff" stroke="#3ccc3c" stroke-width="0.95"/>
<circle cx="99.50" cy="408.00" r="1.4" fill="#fff" stroke="#3ccc3c" stroke-width="0.95"/>
<circle cx="98.50" cy="411.00" r="1.4" fill="#fff" stroke="#3ccc3c" stroke-width="0.95"/>
<circle cx="99.50" cy="414.00" r="1.4" fill="#fff" stroke="#3ccc3c" stroke-width="0.95"/>
<circle cx="98.50" cy="419.80" r="1.4" fill="#fff" stroke="#3ccc3c" stroke-width="0.95"/>
<line x1="103.9" y1="403.3" x2="103.9" y2="407.3" stroke="#b8915a" stroke-width="0.8"/>
<line x1="103.9" y1="413.6" x2="103.9" y2="416.4" stroke="#b8915a" stroke-width="0.8"/>
<rect x="101.70" y="407.30" width="4.40" height="6.30" fill="#fff" stroke="#b8915a" stroke-width="0.85"/>
<circle cx="103.40" cy="403.30" r="1.4" fill="#fff" stroke="#b8915a" stroke-width="0.95"/>
<circle cx="104.40" cy="408.00" r="1.4" fill="#fff" stroke="#b8915a" stroke-width="0.95"/>
<circle cx="103.40" cy="410.00" r="1.4" fill="#fff" stroke="#b8915a" stroke-width="0.95"/>
<circle cx="104.40" cy="412.00" r="1.4" fill="#fff" stroke="#b8915a" stroke-width="0.95"/>
<circle cx="103.40" cy="416.40" r="1.4" fill="#fff" stroke="#b8915a" stroke-width="0.95"/>
<line x1="108.4" y1="393.7" x2="108.4" y2="399.4" stroke="#3030d8" stroke-width="0.8"/>
<line x1="108.4" y1="415.8" x2="108.4" y2="423.2" stroke="#3030d8" stroke-width="0.8"/>
<rect x="106.20" y="399.40" width="4.40" height="16.40" fill="#a9a9f0" stroke="#3030d8" stroke-width="0.85"/>
<circle cx="107.90" cy="393.70" r="1.4" fill="#fff" stroke="#3ccc3c" stroke-width="0.95"/>
<circle cx="108.90" cy="400.00" r="1.4" fill="#fff" stroke="#3ccc3c" stroke-width="0.95"/>
<circle cx="107.90" cy="402.00" r="1.4" fill="#fff" stroke="#3ccc3c" stroke-width="0.95"/>
<circle cx="108.90" cy="408.00" r="1.4" fill="#fff" stroke="#3ccc3c" stroke-width="0.95"/>
<circle cx="107.90" cy="414.00" r="1.4" fill="#fff" stroke="#3ccc3c" stroke-width="0.95"/>
<circle cx="108.90" cy="423.20" r="1.4" fill="#fff" stroke="#3ccc3c" stroke-width="0.95"/>
<line x1="113.3" y1="402.2" x2="113.3" y2="409.6" stroke="#3030d8" stroke-width="0.8"/>
<rect x="111.10" y="409.60" width="4.40" height="12.50" fill="#a9a9f0" stroke="#3030d8" stroke-width="0.85"/>
<circle cx="112.80" cy="402.20" r="1.4" fill="#fff" stroke="#b8915a" stroke-width="0.95"/>
<circle cx="113.80" cy="411.00" r="1.4" fill="#fff" stroke="#b8915a" stroke-width="0.95"/>
<circle cx="112.80" cy="414.00" r="1.4" fill="#fff" stroke="#b8915a" stroke-width="0.95"/>
<circle cx="113.80" cy="418.00" r="1.4" fill="#fff" stroke="#b8915a" stroke-width="0.95"/>
<circle cx="112.80" cy="421.00" r="1.4" fill="#fff" stroke="#b8915a" stroke-width="0.95"/>
<line x1="169.0" y1="390" x2="169.0" y2="436.6" stroke="#c8c8c8" stroke-width="0.6"/>
<line x1="149.4" y1="388.0" x2="149.4" y2="437.05" stroke="#222" stroke-width="0.9"/>
<line x1="148.95000000000002" y1="436.6" x2="181.5" y2="436.6" stroke="#222" stroke-width="0.95"/>
<line x1="147.1" y1="388.5" x2="149.4" y2="388.5" stroke="#2a2a2a" stroke-width="0.6"/>
<text x="147.0" y="389.85" font-size="3.8" text-anchor="end" fill="#333" stroke="#333" stroke-width="0.1" >40</text>
<line x1="147.1" y1="400.6" x2="149.4" y2="400.6" stroke="#2a2a2a" stroke-width="0.6"/>
<text x="147.0" y="401.95000000000005" font-size="3.8" text-anchor="end" fill="#333" stroke="#333" stroke-width="0.1" >30</text>
<line x1="147.1" y1="412.8" x2="149.4" y2="412.8" stroke="#2a2a2a" stroke-width="0.6"/>
<text x="147.0" y="414.15000000000003" font-size="3.8" text-anchor="end" fill="#333" stroke="#333" stroke-width="0.1" >20</text>
<line x1="147.1" y1="425.0" x2="149.4" y2="425.0" stroke="#2a2a2a" stroke-width="0.6"/>
<text x="147.0" y="426.35" font-size="3.8" text-anchor="end" fill="#333" stroke="#333" stroke-width="0.1" >10</text>
<line x1="147.1" y1="436.6" x2="149.4" y2="436.6" stroke="#2a2a2a" stroke-width="0.6"/>
<text x="147.0" y="437.95000000000005" font-size="3.8" text-anchor="end" fill="#333" stroke="#333" stroke-width="0.1" >0</text>
<text transform="translate(135.75,413) rotate(-90) scale(0.9,1)" font-size="4.611" text-anchor="middle" fill="#222" stroke="#222" stroke-width="0.08">Frequencyof PD-L2<tspan baseline-shift="super" font-size="2.9">+</tspan></text>
<text transform="translate(140.25,413) rotate(-90) scale(0.9,1)" font-size="4.611" text-anchor="middle" fill="#222" stroke="#222" stroke-width="0.08">in myeloid cells (%)</text>
<polyline points="167.9,392.5 167.9,390.3 177.8,390.3 177.8,426.6" fill="none" stroke="#8a8a8a" stroke-width="1.0"/>
<circle cx="171.25" cy="386.50" r="0.95" fill="#111"/>
<circle cx="174.45" cy="386.50" r="0.95" fill="#111"/>
<rect x="151.50" y="425.50" width="4.40" height="8.00" fill="#fff" stroke="#e32a2a" stroke-width="0.85"/>
<circle cx="153.20" cy="426.00" r="1.4" fill="#fff" stroke="#e32a2a" stroke-width="0.95"/>
<circle cx="154.20" cy="429.00" r="1.4" fill="#fff" stroke="#e32a2a" stroke-width="0.95"/>
<circle cx="153.20" cy="432.00" r="1.4" fill="#fff" stroke="#e32a2a" stroke-width="0.95"/>
<line x1="158.5" y1="409.6" x2="158.5" y2="418.1" stroke="#3030d8" stroke-width="0.8"/>
<rect x="156.30" y="418.10" width="4.40" height="17.60" fill="#fff" stroke="#3030d8" stroke-width="0.85"/>
<circle cx="158.00" cy="409.60" r="1.4" fill="#fff" stroke="#3030d8" stroke-width="0.95"/>
<circle cx="159.00" cy="419.00" r="1.4" fill="#fff" stroke="#3030d8" stroke-width="0.95"/>
<circle cx="158.00" cy="423.00" r="1.4" fill="#fff" stroke="#3030d8" stroke-width="0.95"/>
<circle cx="159.00" cy="427.00" r="1.4" fill="#fff" stroke="#3030d8" stroke-width="0.95"/>
<circle cx="158.00" cy="431.00" r="1.4" fill="#fff" stroke="#3030d8" stroke-width="0.95"/>
<circle cx="159.00" cy="435.00" r="1.4" fill="#fff" stroke="#3030d8" stroke-width="0.95"/>
<line x1="163.3" y1="424.4" x2="163.3" y2="428.3" stroke="#3ccc3c" stroke-width="0.8"/>
<rect x="161.10" y="415.80" width="4.40" height="8.60" fill="#fff" stroke="#3ccc3c" stroke-width="0.85"/>
<circle cx="162.80" cy="416.00" r="1.4" fill="#fff" stroke="#3ccc3c" stroke-width="0.95"/>
<circle cx="163.80" cy="419.00" r="1.4" fill="#fff" stroke="#3ccc3c" stroke-width="0.95"/>
<circle cx="162.80" cy="422.00" r="1.4" fill="#fff" stroke="#3ccc3c" stroke-width="0.95"/>
<circle cx="163.80" cy="425.00" r="1.4" fill="#fff" stroke="#3ccc3c" stroke-width="0.95"/>
<circle cx="162.80" cy="428.30" r="1.4" fill="#fff" stroke="#3ccc3c" stroke-width="0.95"/>
<line x1="167.9" y1="396.0" x2="167.9" y2="408.5" stroke="#b8915a" stroke-width="0.8"/>
<line x1="167.9" y1="423.2" x2="167.9" y2="430.6" stroke="#b8915a" stroke-width="0.8"/>
<rect x="165.70" y="408.50" width="4.40" height="14.70" fill="#fff" stroke="#b8915a" stroke-width="0.85"/>
<circle cx="167.40" cy="396.00" r="1.4" fill="#fff" stroke="#b8915a" stroke-width="0.95"/>
<circle cx="168.40" cy="409.00" r="1.4" fill="#fff" stroke="#b8915a" stroke-width="0.95"/>
<circle cx="167.40" cy="412.00" r="1.4" fill="#fff" stroke="#b8915a" stroke-width="0.95"/>
<circle cx="168.40" cy="415.00" r="1.4" fill="#fff" stroke="#b8915a" stroke-width="0.95"/>
<circle cx="167.40" cy="418.00" r="1.4" fill="#fff" stroke="#b8915a" stroke-width="0.95"/>
<circle cx="168.40" cy="421.00" r="1.4" fill="#fff" stroke="#b8915a" stroke-width="0.95"/>
<circle cx="167.40" cy="430.60" r="1.4" fill="#fff" stroke="#b8915a" stroke-width="0.95"/>
<line x1="172.4" y1="404.5" x2="172.4" y2="411.9" stroke="#3030d8" stroke-width="0.8"/>
<rect x="170.20" y="411.90" width="4.40" height="21.60" fill="#a9a9f0" stroke="#3030d8" stroke-width="0.85"/>
<circle cx="171.90" cy="404.50" r="1.4" fill="#fff" stroke="#3ccc3c" stroke-width="0.95"/>
<circle cx="172.90" cy="413.00" r="1.4" fill="#fff" stroke="#3ccc3c" stroke-width="0.95"/>
<circle cx="171.90" cy="426.00" r="1.4" fill="#fff" stroke="#3ccc3c" stroke-width="0.95"/>
<circle cx="172.90" cy="431.00" r="1.4" fill="#fff" stroke="#3ccc3c" stroke-width="0.95"/>
<circle cx="171.90" cy="435.00" r="1.4" fill="#fff" stroke="#3ccc3c" stroke-width="0.95"/>
<line x1="177.5" y1="429.5" x2="177.5" y2="433.5" stroke="#3030d8" stroke-width="0.8"/>
<rect x="175.30" y="433.50" width="4.40" height="2.80" fill="#a9a9f0" stroke="#3030d8" stroke-width="0.85"/>
<circle cx="177.00" cy="429.50" r="1.4" fill="#fff" stroke="#b8915a" stroke-width="0.95"/>
<circle cx="178.00" cy="433.00" r="1.4" fill="#fff" stroke="#b8915a" stroke-width="0.95"/>
<circle cx="177.00" cy="436.00" r="1.4" fill="#fff" stroke="#b8915a" stroke-width="0.95"/>
<line x1="232.5" y1="390" x2="232.5" y2="436.6" stroke="#c8c8c8" stroke-width="0.6"/>
<line x1="211.7" y1="388.0" x2="211.7" y2="437.05" stroke="#222" stroke-width="0.9"/>
<line x1="211.25" y1="436.6" x2="243.8" y2="436.6" stroke="#222" stroke-width="0.95"/>
<line x1="209.39999999999998" y1="388.7" x2="211.7" y2="388.7" stroke="#2a2a2a" stroke-width="0.6"/>
<text x="209.29999999999998" y="390.05" font-size="3.8" text-anchor="end" fill="#333" stroke="#333" stroke-width="0.1" >3000</text>
<line x1="209.39999999999998" y1="404.7" x2="211.7" y2="404.7" stroke="#2a2a2a" stroke-width="0.6"/>
<text x="209.29999999999998" y="406.05" font-size="3.8" text-anchor="end" fill="#333" stroke="#333" stroke-width="0.1" >2000</text>
<line x1="209.39999999999998" y1="420.7" x2="211.7" y2="420.7" stroke="#2a2a2a" stroke-width="0.6"/>
<text x="209.29999999999998" y="422.05" font-size="3.8" text-anchor="end" fill="#333" stroke="#333" stroke-width="0.1" >1000</text>
<line x1="209.39999999999998" y1="436.6" x2="211.7" y2="436.6" stroke="#2a2a2a" stroke-width="0.6"/>
<text x="209.29999999999998" y="437.95000000000005" font-size="3.8" text-anchor="end" fill="#333" stroke="#333" stroke-width="0.1" >0</text>
<text transform="translate(191.25,412.5) rotate(-90) scale(0.9,1)" font-size="4.611" text-anchor="middle" fill="#222" stroke="#222" stroke-width="0.08">PD-L2 expression density</text>
<text transform="translate(195.65,412.5) rotate(-90) scale(0.9,1)" font-size="4.611" text-anchor="middle" fill="#222" stroke="#222" stroke-width="0.08">on myeloid cells</text>
<text transform="translate(199.45,412.5) rotate(-90) scale(0.9,1)" font-size="4.611" text-anchor="middle" fill="#222" stroke="#222" stroke-width="0.08">(gMFI)</text>
<polyline points="230.2,394.8 230.2,392.5 239.8,392.5 239.8,417.5" fill="none" stroke="#8a8a8a" stroke-width="1.0"/>
<circle cx="233.40" cy="388.70" r="0.95" fill="#111"/>
<circle cx="236.60" cy="388.70" r="0.95" fill="#111"/>
<rect x="214.10" y="417.00" width="4.40" height="5.70" fill="#fff" stroke="#e32a2a" stroke-width="0.85"/>
<circle cx="215.80" cy="418.00" r="1.4" fill="#fff" stroke="#e32a2a" stroke-width="0.95"/>
<circle cx="216.80" cy="420.00" r="1.4" fill="#fff" stroke="#e32a2a" stroke-width="0.95"/>
<circle cx="215.80" cy="422.00" r="1.4" fill="#fff" stroke="#e32a2a" stroke-width="0.95"/>
<line x1="220.8" y1="409.0" x2="220.8" y2="414.1" stroke="#3030d8" stroke-width="0.8"/>
<rect x="218.60" y="414.10" width="4.40" height="12.00" fill="#fff" stroke="#3030d8" stroke-width="0.85"/>
<circle cx="220.30" cy="409.00" r="1.4" fill="#fff" stroke="#3030d8" stroke-width="0.95"/>
<circle cx="221.30" cy="415.00" r="1.4" fill="#fff" stroke="#3030d8" stroke-width="0.95"/>
<circle cx="220.30" cy="418.00" r="1.4" fill="#fff" stroke="#3030d8" stroke-width="0.95"/>
<circle cx="221.30" cy="421.00" r="1.4" fill="#fff" stroke="#3030d8" stroke-width="0.95"/>
<circle cx="220.30" cy="424.00" r="1.4" fill="#fff" stroke="#3030d8" stroke-width="0.95"/>
<circle cx="221.30" cy="427.00" r="1.4" fill="#fff" stroke="#3030d8" stroke-width="0.95"/>
<rect x="223.40" y="410.70" width="4.40" height="7.40" fill="#fff" stroke="#3ccc3c" stroke-width="0.85"/>
<circle cx="225.10" cy="411.00" r="1.4" fill="#fff" stroke="#3ccc3c" stroke-width="0.95"/>
<circle cx="226.10" cy="413.50" r="1.4" fill="#fff" stroke="#3ccc3c" stroke-width="0.95"/>
<circle cx="225.10" cy="416.00" r="1.4" fill="#fff" stroke="#3ccc3c" stroke-width="0.95"/>
<circle cx="226.10" cy="418.00" r="1.4" fill="#fff" stroke="#3ccc3c" stroke-width="0.95"/>
<line x1="230.2" y1="398.2" x2="230.2" y2="407.9" stroke="#b8915a" stroke-width="0.8"/>
<line x1="230.2" y1="416.4" x2="230.2" y2="420.4" stroke="#b8915a" stroke-width="0.8"/>
<rect x="228.00" y="407.90" width="4.40" height="8.50" fill="#fff" stroke="#b8915a" stroke-width="0.85"/>
<circle cx="229.70" cy="398.20" r="1.4" fill="#fff" stroke="#b8915a" stroke-width="0.95"/>
<circle cx="230.70" cy="409.00" r="1.4" fill="#fff" stroke="#b8915a" stroke-width="0.95"/>
<circle cx="229.70" cy="412.00" r="1.4" fill="#fff" stroke="#b8915a" stroke-width="0.95"/>
<circle cx="230.70" cy="415.00" r="1.4" fill="#fff" stroke="#b8915a" stroke-width="0.95"/>
<circle cx="229.70" cy="420.40" r="1.4" fill="#fff" stroke="#b8915a" stroke-width="0.95"/>
<line x1="235.0" y1="403.3" x2="235.0" y2="409.0" stroke="#3030d8" stroke-width="0.8"/>
<line x1="235.0" y1="419.3" x2="235.0" y2="425.5" stroke="#3030d8" stroke-width="0.8"/>
<rect x="232.80" y="409.00" width="4.40" height="10.30" fill="#a9a9f0" stroke="#3030d8" stroke-width="0.85"/>
<circle cx="234.50" cy="403.30" r="1.4" fill="#fff" stroke="#3ccc3c" stroke-width="0.95"/>
<circle cx="235.50" cy="410.00" r="1.4" fill="#fff" stroke="#3ccc3c" stroke-width="0.95"/>
<circle cx="234.50" cy="418.00" r="1.4" fill="#fff" stroke="#3ccc3c" stroke-width="0.95"/>
<circle cx="235.50" cy="421.00" r="1.4" fill="#fff" stroke="#3ccc3c" stroke-width="0.95"/>
<circle cx="234.50" cy="425.50" r="1.4" fill="#fff" stroke="#3ccc3c" stroke-width="0.95"/>
<rect x="237.60" y="419.80" width="4.40" height="5.70" fill="#a9a9f0" stroke="#3030d8" stroke-width="0.85"/>
<circle cx="239.30" cy="420.00" r="1.4" fill="#fff" stroke="#b8915a" stroke-width="0.95"/>
<circle cx="240.30" cy="423.00" r="1.4" fill="#fff" stroke="#b8915a" stroke-width="0.95"/>
<circle cx="239.30" cy="426.00" r="1.4" fill="#fff" stroke="#b8915a" stroke-width="0.95"/>
<line x1="296.5" y1="386" x2="296.5" y2="436.6" stroke="#c8c8c8" stroke-width="0.6"/>
<line x1="275.2" y1="387.0" x2="275.2" y2="437.05" stroke="#222" stroke-width="0.9"/>
<line x1="274.75" y1="436.6" x2="306.5" y2="436.6" stroke="#222" stroke-width="0.95"/>
<line x1="272.9" y1="387.6" x2="275.2" y2="387.6" stroke="#2a2a2a" stroke-width="0.6"/>
<text x="272.8" y="388.95000000000005" font-size="3.8" text-anchor="end" fill="#333" stroke="#333" stroke-width="0.1" >100</text>
<line x1="272.9" y1="397.5" x2="275.2" y2="397.5" stroke="#2a2a2a" stroke-width="0.6"/>
<text x="272.8" y="398.85" font-size="3.8" text-anchor="end" fill="#333" stroke="#333" stroke-width="0.1" >80</text>
<line x1="272.9" y1="407.2" x2="275.2" y2="407.2" stroke="#2a2a2a" stroke-width="0.6"/>
<text x="272.8" y="408.55" font-size="3.8" text-anchor="end" fill="#333" stroke="#333" stroke-width="0.1" >60</text>
<line x1="272.9" y1="417.1" x2="275.2" y2="417.1" stroke="#2a2a2a" stroke-width="0.6"/>
<text x="272.8" y="418.45000000000005" font-size="3.8" text-anchor="end" fill="#333" stroke="#333" stroke-width="0.1" >40</text>
<line x1="272.9" y1="427.0" x2="275.2" y2="427.0" stroke="#2a2a2a" stroke-width="0.6"/>
<text x="272.8" y="428.35" font-size="3.8" text-anchor="end" fill="#333" stroke="#333" stroke-width="0.1" >20</text>
<line x1="272.9" y1="436.6" x2="275.2" y2="436.6" stroke="#2a2a2a" stroke-width="0.6"/>
<text x="272.8" y="437.95000000000005" font-size="3.8" text-anchor="end" fill="#333" stroke="#333" stroke-width="0.1" >0</text>
<text transform="translate(259.65,413) rotate(-90) scale(0.9,1)" font-size="4.611" text-anchor="middle" fill="#222" stroke="#222" stroke-width="0.08">Frequencyof CD155<tspan baseline-shift="super" font-size="2.9">+</tspan></text>
<text transform="translate(264.85,413) rotate(-90) scale(0.9,1)" font-size="4.611" text-anchor="middle" fill="#222" stroke="#222" stroke-width="0.08">on myeloid cells (%)</text>
<rect x="278.10" y="406.20" width="4.40" height="9.10" fill="#fff" stroke="#e32a2a" stroke-width="0.85"/>
<circle cx="279.80" cy="407.00" r="1.4" fill="#fff" stroke="#e32a2a" stroke-width="0.95"/>
<circle cx="280.80" cy="410.00" r="1.4" fill="#fff" stroke="#e32a2a" stroke-width="0.95"/>
<circle cx="279.80" cy="413.00" r="1.4" fill="#fff" stroke="#e32a2a" stroke-width="0.95"/>
<circle cx="280.80" cy="415.00" r="1.4" fill="#fff" stroke="#e32a2a" stroke-width="0.95"/>
<line x1="284.8" y1="404.5" x2="284.8" y2="410.7" stroke="#3030d8" stroke-width="0.8"/>
<line x1="284.8" y1="418.7" x2="284.8" y2="424.4" stroke="#3030d8" stroke-width="0.8"/>
<rect x="282.60" y="410.70" width="4.40" height="8.00" fill="#fff" stroke="#3030d8" stroke-width="0.85"/>
<circle cx="284.30" cy="404.50" r="1.4" fill="#fff" stroke="#3030d8" stroke-width="0.95"/>
<circle cx="285.30" cy="411.00" r="1.4" fill="#fff" stroke="#3030d8" stroke-width="0.95"/>
<circle cx="284.30" cy="414.00" r="1.4" fill="#fff" stroke="#3030d8" stroke-width="0.95"/>
<circle cx="285.30" cy="418.00" r="1.4" fill="#fff" stroke="#3030d8" stroke-width="0.95"/>
<circle cx="284.30" cy="424.40" r="1.4" fill="#fff" stroke="#3030d8" stroke-width="0.95"/>
<line x1="289.3" y1="399.9" x2="289.3" y2="402.8" stroke="#3ccc3c" stroke-width="0.8"/>
<line x1="289.3" y1="418.1" x2="289.3" y2="421.5" stroke="#3ccc3c" stroke-width="0.8"/>
<rect x="287.10" y="402.80" width="4.40" height="15.30" fill="#fff" stroke="#3ccc3c" stroke-width="0.85"/>
<circle cx="288.80" cy="399.90" r="1.4" fill="#fff" stroke="#3ccc3c" stroke-width="0.95"/>
<circle cx="289.80" cy="402.00" r="1.4" fill="#fff" stroke="#3ccc3c" stroke-width="0.95"/>
<circle cx="288.80" cy="405.00" r="1.4" fill="#fff" stroke="#3ccc3c" stroke-width="0.95"/>
<circle cx="289.80" cy="415.00" r="1.4" fill="#fff" stroke="#3ccc3c" stroke-width="0.95"/>
<circle cx="288.80" cy="418.00" r="1.4" fill="#fff" stroke="#3ccc3c" stroke-width="0.95"/>
<circle cx="289.80" cy="421.50" r="1.4" fill="#fff" stroke="#3ccc3c" stroke-width="0.95"/>
<line x1="293.9" y1="398.2" x2="293.9" y2="402.2" stroke="#b8915a" stroke-width="0.8"/>
<rect x="291.70" y="402.20" width="4.40" height="6.30" fill="#fff" stroke="#b8915a" stroke-width="0.85"/>
<circle cx="293.40" cy="398.20" r="1.4" fill="#fff" stroke="#b8915a" stroke-width="0.95"/>
<circle cx="294.40" cy="402.00" r="1.4" fill="#fff" stroke="#b8915a" stroke-width="0.95"/>
<circle cx="293.40" cy="405.00" r="1.4" fill="#fff" stroke="#b8915a" stroke-width="0.95"/>
<circle cx="294.40" cy="408.00" r="1.4" fill="#fff" stroke="#b8915a" stroke-width="0.95"/>
<line x1="298.8" y1="399.4" x2="298.8" y2="401.1" stroke="#3030d8" stroke-width="0.8"/>
<line x1="298.8" y1="419.3" x2="298.8" y2="428.9" stroke="#3030d8" stroke-width="0.8"/>
<rect x="296.60" y="401.10" width="4.40" height="18.20" fill="#a9a9f0" stroke="#3030d8" stroke-width="0.85"/>
<circle cx="298.30" cy="399.40" r="1.4" fill="#fff" stroke="#3ccc3c" stroke-width="0.95"/>
<circle cx="299.30" cy="402.00" r="1.4" fill="#fff" stroke="#3ccc3c" stroke-width="0.95"/>
<circle cx="298.30" cy="411.00" r="1.4" fill="#fff" stroke="#3ccc3c" stroke-width="0.95"/>
<circle cx="299.30" cy="417.00" r="1.4" fill="#fff" stroke="#3ccc3c" stroke-width="0.95"/>
<circle cx="298.30" cy="428.90" r="1.4" fill="#fff" stroke="#3ccc3c" stroke-width="0.95"/>
<line x1="303.8" y1="396.0" x2="303.8" y2="398.8" stroke="#3030d8" stroke-width="0.8"/>
<line x1="303.8" y1="414.7" x2="303.8" y2="418.7" stroke="#3030d8" stroke-width="0.8"/>
<rect x="301.60" y="398.80" width="4.40" height="15.90" fill="#a9a9f0" stroke="#3030d8" stroke-width="0.85"/>
<circle cx="303.30" cy="396.00" r="1.4" fill="#fff" stroke="#b8915a" stroke-width="0.95"/>
<circle cx="304.30" cy="399.00" r="1.4" fill="#fff" stroke="#b8915a" stroke-width="0.95"/>
<circle cx="303.30" cy="402.00" r="1.4" fill="#fff" stroke="#b8915a" stroke-width="0.95"/>
<circle cx="304.30" cy="414.00" r="1.4" fill="#fff" stroke="#b8915a" stroke-width="0.95"/>
<circle cx="303.30" cy="418.70" r="1.4" fill="#fff" stroke="#b8915a" stroke-width="0.95"/>
<line x1="360.2" y1="386" x2="360.2" y2="436.4" stroke="#c8c8c8" stroke-width="0.6"/>
<line x1="339.3" y1="388.0" x2="339.3" y2="436.84999999999997" stroke="#222" stroke-width="0.9"/>
<line x1="338.85" y1="436.4" x2="372.3" y2="436.4" stroke="#222" stroke-width="0.95"/>
<line x1="337.0" y1="388.6" x2="339.3" y2="388.6" stroke="#2a2a2a" stroke-width="0.6"/>
<text x="336.90000000000003" y="389.95000000000005" font-size="3.8" text-anchor="end" fill="#333" stroke="#333" stroke-width="0.1" >15000</text>
<line x1="337.0" y1="404.3" x2="339.3" y2="404.3" stroke="#2a2a2a" stroke-width="0.6"/>
<text x="336.90000000000003" y="405.65000000000003" font-size="3.8" text-anchor="end" fill="#333" stroke="#333" stroke-width="0.1" >10000</text>
<line x1="337.0" y1="420.4" x2="339.3" y2="420.4" stroke="#2a2a2a" stroke-width="0.6"/>
<text x="336.90000000000003" y="421.75" font-size="3.8" text-anchor="end" fill="#333" stroke="#333" stroke-width="0.1" >5000</text>
<line x1="337.0" y1="436.4" x2="339.3" y2="436.4" stroke="#2a2a2a" stroke-width="0.6"/>
<text x="336.90000000000003" y="437.75" font-size="3.8" text-anchor="end" fill="#333" stroke="#333" stroke-width="0.1" >0</text>
<text transform="translate(317.05,412.5) rotate(-90) scale(0.9,1)" font-size="4.611" text-anchor="middle" fill="#222" stroke="#222" stroke-width="0.08">CD155 expression density</text>
<text transform="translate(321.65,412.5) rotate(-90) scale(0.9,1)" font-size="4.611" text-anchor="middle" fill="#222" stroke="#222" stroke-width="0.08">on myeloid cells</text>
<text transform="translate(325.65,412.5) rotate(-90) scale(0.9,1)" font-size="4.611" text-anchor="middle" fill="#222" stroke="#222" stroke-width="0.08">(gMFI)</text>
<polyline points="349.4,409.6 349.4,393.5 358.5,393.5 358.5,402.8" fill="none" stroke="#8a8a8a" stroke-width="1.0"/>
<circle cx="353.95" cy="389.70" r="0.95" fill="#111"/>
<rect x="342.10" y="408.50" width="4.40" height="6.80" fill="#e85050" stroke="#e32a2a" stroke-width="0.85"/>
<circle cx="343.80" cy="409.00" r="1.4" fill="#fff" stroke="#e32a2a" stroke-width="0.95"/>
<circle cx="344.80" cy="412.00" r="1.4" fill="#fff" stroke="#e32a2a" stroke-width="0.95"/>
<circle cx="343.80" cy="415.00" r="1.4" fill="#fff" stroke="#e32a2a" stroke-width="0.95"/>
<rect x="346.60" y="411.90" width="4.40" height="9.10" fill="#b4b4ee" stroke="#3030d8" stroke-width="0.85"/>
<circle cx="348.30" cy="412.00" r="1.4" fill="#fff" stroke="#3030d8" stroke-width="0.95"/>
<circle cx="349.30" cy="415.00" r="1.4" fill="#fff" stroke="#3030d8" stroke-width="0.95"/>
<circle cx="348.30" cy="418.00" r="1.4" fill="#fff" stroke="#3030d8" stroke-width="0.95"/>
<circle cx="349.30" cy="420.00" r="1.4" fill="#fff" stroke="#3030d8" stroke-width="0.95"/>
<line x1="353.6" y1="399.4" x2="353.6" y2="403.3" stroke="#3ccc3c" stroke-width="0.8"/>
<line x1="353.6" y1="415.8" x2="353.6" y2="419.3" stroke="#3ccc3c" stroke-width="0.8"/>
<rect x="351.40" y="403.30" width="4.40" height="12.50" fill="#fff" stroke="#3ccc3c" stroke-width="0.85"/>
<circle cx="353.10" cy="399.40" r="1.4" fill="#fff" stroke="#3ccc3c" stroke-width="0.95"/>
<circle cx="354.10" cy="404.00" r="1.4" fill="#fff" stroke="#3ccc3c" stroke-width="0.95"/>
<circle cx="353.10" cy="408.00" r="1.4" fill="#fff" stroke="#3ccc3c" stroke-width="0.95"/>
<circle cx="354.10" cy="412.00" r="1.4" fill="#fff" stroke="#3ccc3c" stroke-width="0.95"/>
<circle cx="353.10" cy="415.00" r="1.4" fill="#fff" stroke="#3ccc3c" stroke-width="0.95"/>
<circle cx="354.10" cy="419.30" r="1.4" fill="#fff" stroke="#3ccc3c" stroke-width="0.95"/>
<rect x="356.30" y="403.30" width="4.40" height="6.90" fill="#fff" stroke="#b8915a" stroke-width="0.85"/>
<circle cx="358.00" cy="404.00" r="1.4" fill="#fff" stroke="#b8915a" stroke-width="0.95"/>
<circle cx="359.00" cy="407.00" r="1.4" fill="#fff" stroke="#b8915a" stroke-width="0.95"/>
<circle cx="358.00" cy="410.00" r="1.4" fill="#fff" stroke="#b8915a" stroke-width="0.95"/>
<line x1="363.2" y1="403.3" x2="363.2" y2="407.3" stroke="#3030d8" stroke-width="0.8"/>
<line x1="363.2" y1="415.8" x2="363.2" y2="423.2" stroke="#3030d8" stroke-width="0.8"/>
<rect x="361.00" y="407.30" width="4.40" height="8.50" fill="#a9a9f0" stroke="#3030d8" stroke-width="0.85"/>
<circle cx="362.70" cy="403.30" r="1.4" fill="#fff" stroke="#3ccc3c" stroke-width="0.95"/>
<circle cx="363.70" cy="408.00" r="1.4" fill="#fff" stroke="#3ccc3c" stroke-width="0.95"/>
<circle cx="362.70" cy="414.00" r="1.4" fill="#fff" stroke="#3ccc3c" stroke-width="0.95"/>
<circle cx="363.70" cy="423.20" r="1.4" fill="#fff" stroke="#3ccc3c" stroke-width="0.95"/>
<line x1="367.8" y1="405.6" x2="367.8" y2="408.5" stroke="#3030d8" stroke-width="0.8"/>
<line x1="367.8" y1="416.4" x2="367.8" y2="418.1" stroke="#3030d8" stroke-width="0.8"/>
<rect x="365.60" y="408.50" width="4.40" height="7.90" fill="#a9a9f0" stroke="#3030d8" stroke-width="0.85"/>
<circle cx="367.30" cy="405.60" r="1.4" fill="#fff" stroke="#b8915a" stroke-width="0.95"/>
<circle cx="368.30" cy="409.00" r="1.4" fill="#fff" stroke="#b8915a" stroke-width="0.95"/>
<circle cx="367.30" cy="412.00" r="1.4" fill="#fff" stroke="#b8915a" stroke-width="0.95"/>
<circle cx="368.30" cy="415.00" r="1.4" fill="#fff" stroke="#b8915a" stroke-width="0.95"/>
<circle cx="367.30" cy="418.10" r="1.4" fill="#fff" stroke="#b8915a" stroke-width="0.95"/>
</svg></body></html>
